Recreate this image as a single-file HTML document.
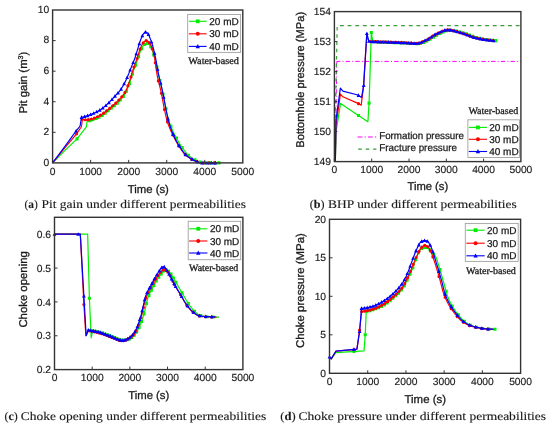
<!DOCTYPE html>
<html><head><meta charset="utf-8"><title>Figure</title>
<style>html,body{margin:0;padding:0;background:#fff;}svg{display:block;filter:blur(0.25px);}text{text-rendering:geometricPrecision;}</style>
</head><body>
<svg width="550" height="427" viewBox="0 0 550 427">
<style>
.tk{font-family:"Liberation Sans", Arial, sans-serif;font-size:10.3px;fill:#1a1a1a;stroke:#1a1a1a;stroke-width:0.15px}
.lg{font-family:"Liberation Sans", Arial, sans-serif;font-size:10px;fill:#1a1a1a;stroke:#1a1a1a;stroke-width:0.25px}
.al{font-family:"Liberation Sans", Arial, sans-serif;font-size:11.3px;fill:#1a1a1a;stroke:#1a1a1a;stroke-width:0.3px}
.wb{font-family:"Liberation Serif", "Times New Roman", serif;font-size:10px;fill:#1a1a1a;stroke:#1a1a1a;stroke-width:0.3px}
.cap{font-family:"Liberation Serif", "Times New Roman", serif;font-size:11.8px;fill:#1a1a1a;stroke:#1a1a1a;stroke-width:0.12px}
</style>
<rect width="550" height="427" fill="#fff"/>
<path d="M52.6 162.9 L64.01 151.43 L77.02 138.89 L86.42 126.97 L87.03 121.77 L87.22 121.7 L87.6 121.57 L87.98 121.44 L88.36 121.3 L88.74 121.17 L89.12 121.03 L89.5 120.89 L89.88 120.75 L90.26 120.61 L90.64 120.47 L91.02 120.32 L91.4 120.18 L91.63 120.09 L91.78 120.03 L92.16 119.88 L92.54 119.74 L92.92 119.59 L93.3 119.45 L93.68 119.31 L94.06 119.16 L94.44 119.02 L94.82 118.88 L95.2 118.73 L95.59 118.58 L95.97 118.43 L96.35 118.28 L96.73 118.13 L97.11 117.97 L97.49 117.81 L97.87 117.65 L98.25 117.48 L98.63 117.31 L99.01 117.13 L99.39 116.95 L99.77 116.76 L100.15 116.57 L100.53 116.37 L100.72 116.27 L100.91 116.16 L101.29 115.94 L101.67 115.72 L102.05 115.48 L102.43 115.23 L102.81 114.97 L103.19 114.7 L103.57 114.43 L103.95 114.15 L104.33 113.86 L104.71 113.57 L105.1 113.27 L105.48 112.96 L105.86 112.66 L106.24 112.35 L106.62 112.03 L107 111.72 L107.38 111.4 L107.76 111.08 L108.14 110.77 L108.52 110.45 L108.9 110.13 L109.28 109.82 L109.66 109.51 L109.81 109.39 L110.04 109.2 L110.42 108.89 L110.8 108.59 L111.18 108.28 L111.56 107.98 L111.94 107.67 L112.32 107.37 L112.7 107.06 L113.08 106.75 L113.46 106.44 L113.84 106.12 L114.22 105.8 L114.61 105.48 L114.99 105.16 L115.37 104.83 L115.75 104.5 L116.13 104.16 L116.51 103.81 L116.89 103.46 L117.27 103.1 L117.65 102.74 L118.03 102.36 L118.41 101.98 L118.79 101.59 L118.94 101.43 L119.17 101.2 L119.55 100.8 L119.93 100.39 L120.31 99.98 L120.69 99.57 L121.07 99.14 L121.45 98.71 L121.83 98.26 L122.21 97.8 L122.59 97.33 L122.97 96.84 L123.35 96.33 L123.73 95.8 L124.12 95.25 L124.5 94.68 L124.88 94.08 L125.26 93.46 L125.33 93.33 L125.64 92.8 L126.02 92.07 L126.4 91.29 L126.78 90.46 L127.16 89.59 L127.54 88.67 L127.92 87.72 L128.3 86.74 L128.68 85.73 L129.06 84.71 L129.44 83.67 L129.82 82.63 L130.2 81.54 L130.58 80.37 L130.96 79.15 L131.34 77.89 L131.72 76.6 L132.1 75.3 L132.48 74.02 L132.86 72.76 L133.24 71.55 L133.63 70.4 L134.01 69.3 L134.39 68.25 L134.77 67.22 L135.15 66.21 L135.53 65.22 L135.91 64.23 L136.29 63.24 L136.67 62.23 L137.05 61.21 L137.43 60.15 L137.81 59.04 L138.19 57.87 L138.57 56.66 L138.95 55.46 L139.33 54.28 L139.71 53.16 L140.09 52.12 L140.43 51.28 L140.47 51.2 L140.85 50.33 L141.23 49.48 L141.61 48.65 L141.99 47.88 L142.37 47.16 L142.75 46.51 L143.14 45.96 L143.52 45.51 L143.55 45.47 L143.9 45.13 L144.28 44.76 L144.66 44.4 L145.04 44.07 L145.42 43.78 L145.8 43.53 L146.18 43.34 L146.56 43.22 L146.94 43.18 L147.32 43.23 L147.7 43.36 L148.08 43.57 L148.46 43.84 L148.84 44.15 L149.22 44.5 L149.6 44.86 L149.98 45.33 L150.36 45.96 L150.74 46.73 L151.12 47.61 L151.5 48.55 L151.88 49.53 L152.26 50.52 L152.65 51.54 L153.03 52.63 L153.41 53.8 L153.79 55.03 L154.17 56.32 L154.55 57.66 L154.93 59.04 L155.31 60.46 L155.69 61.95 L156.07 63.54 L156.45 65.22 L156.83 66.96 L157.21 68.73 L157.59 70.52 L157.97 72.3 L158.35 74.05 L158.73 75.75 L159.11 77.39 L159.49 79 L159.87 80.6 L160.25 82.19 L160.63 83.79 L161.01 85.41 L161.39 87.05 L161.77 88.74 L162.16 90.49 L162.54 92.28 L162.92 94.11 L163.3 95.95 L163.68 97.81 L164.06 99.66 L164.44 101.48 L164.82 103.27 L165.2 105.06 L165.58 106.88 L165.96 108.7 L166.34 110.51 L166.72 112.27 L167.1 113.96 L167.48 115.55 L167.86 117.03 L168.24 118.41 L168.62 119.73 L169 120.99 L169.38 122.19 L169.76 123.33 L170.14 124.42 L170.52 125.44 L170.9 126.42 L171.28 127.36 L171.67 128.28 L172.05 129.16 L172.43 130.02 L172.81 130.86 L173.19 131.67 L173.57 132.47 L173.95 133.25 L174.33 134.01 L174.71 134.76 L175.09 135.5 L175.47 136.23 L175.85 136.95 L176.23 137.67 L176.61 138.39 L176.99 139.09 L177.37 139.79 L177.75 140.48 L178.13 141.16 L178.51 141.83 L178.89 142.49 L179.27 143.14 L179.65 143.78 L180.03 144.4 L180.41 145.01 L180.79 145.6 L181.18 146.19 L181.56 146.75 L181.94 147.3 L182.32 147.85 L182.7 148.38 L183.08 148.92 L183.46 149.44 L183.84 149.96 L184.22 150.47 L184.6 150.97 L184.98 151.46 L185.36 151.94 L185.74 152.41 L186.12 152.87 L186.5 153.31 L186.88 153.73 L187.26 154.14 L187.64 154.53 L188.02 154.9 L188.4 155.25 L188.78 155.59 L189.16 155.92 L189.54 156.25 L189.92 156.56 L190.3 156.86 L190.69 157.16 L191.07 157.45 L191.45 157.73 L191.83 158 L192.21 158.26 L192.59 158.51 L192.97 158.76 L193.35 158.99 L193.73 159.22 L194.11 159.44 L194.49 159.64 L194.87 159.84 L195.25 160.03 L195.63 160.22 L196.01 160.4 L196.39 160.57 L196.77 160.74 L197.15 160.9 L197.53 161.05 L197.91 161.2 L198.29 161.35 L198.67 161.49 L199.05 161.62 L199.43 161.75 L199.81 161.87 L200.2 161.98 L200.58 162.1 L200.96 162.22 L201.34 162.35 L201.72 162.47 L202.1 162.58 L202.48 162.69 L202.86 162.77 L203.24 162.84 L203.62 162.88 L204 162.9 L204.38 162.9 L204.76 162.9 L205.14 162.9 L205.52 162.9 L205.9 162.9 L206.28 162.9 L206.66 162.9 L207.04 162.9 L207.42 162.9 L207.8 162.9 L208.18 162.9 L208.56 162.9 L208.94 162.9 L209.32 162.9 L209.71 162.9 L210.09 162.9 L210.47 162.9 L210.85 162.9 L211.23 162.9 L211.61 162.9 L211.99 162.9 L212.37 162.9 L212.75 162.9 L213.13 162.9 L213.51 162.9 L213.89 162.9 L214.27 162.9 L214.65 162.9 L215.03 162.9 L215.41 162.9 L215.79 162.9 L216.17 162.9 L216.55 162.9 L216.93 162.9 L217.31 162.9 L217.69 162.9 L218.07 162.9 L218.45 162.9 L218.83 162.9 L218.99 162.9" stroke="#00ee00" stroke-width="1.2" fill="none" stroke-linejoin="round"/>
<path d="M75.47 137.34h3.1v3.1h-3.1zM88.33 119.2h3.1v3.1h-3.1zM91.37 118.04h3.1v3.1h-3.1zM94.42 116.88h3.1v3.1h-3.1zM97.46 115.58h3.1v3.1h-3.1zM100.5 113.93h3.1v3.1h-3.1zM103.55 111.72h3.1v3.1h-3.1zM106.59 109.22h3.1v3.1h-3.1zM109.63 106.73h3.1v3.1h-3.1zM112.67 104.25h3.1v3.1h-3.1zM115.72 101.55h3.1v3.1h-3.1zM118.76 98.43h3.1v3.1h-3.1zM121.8 94.78h3.1v3.1h-3.1zM124.85 89.74h3.1v3.1h-3.1zM127.89 82.12h3.1v3.1h-3.1zM130.93 72.47h3.1v3.1h-3.1zM133.98 63.67h3.1v3.1h-3.1zM137.02 55.11h3.1v3.1h-3.1zM140.06 47.1h3.1v3.1h-3.1zM143.11 42.85h3.1v3.1h-3.1zM146.15 41.81h3.1v3.1h-3.1zM149.19 45.18h3.1v3.1h-3.1zM152.24 53.48h3.1v3.1h-3.1zM155.28 65.41h3.1v3.1h-3.1zM158.32 79.05h3.1v3.1h-3.1zM161.37 92.56h3.1v3.1h-3.1zM164.41 107.15h3.1v3.1h-3.1zM169.35 124.87h3.1v3.1h-3.1zM174.87 136.48h3.1v3.1h-3.1zM180.58 146.03h3.1v3.1h-3.1zM186.85 153.7h3.1v3.1h-3.1zM193.32 158.29h3.1v3.1h-3.1zM198.65 160.43h3.1v3.1h-3.1zM203.21 161.35h3.1v3.1h-3.1zM208.16 161.35h3.1v3.1h-3.1zM213.1 161.35h3.1v3.1h-3.1zM217.44 161.35h3.1v3.1h-3.1z" fill="#00ee00" stroke="none"/>
<path d="M52.6 162.9 L64.01 148.83 L76.57 133.85 L80.75 127.73 L81.43 126.51 L82.08 121.77 L82.27 119.24 L82.65 119.34 L83.03 119.43 L83.41 119.51 L83.79 119.58 L84.17 119.63 L84.55 119.68 L84.93 119.72 L85.31 119.75 L85.69 119.77 L86.08 119.78 L86.46 119.79 L86.84 119.78 L87.22 119.76 L87.6 119.74 L87.98 119.71 L88.36 119.67 L88.74 119.62 L89.12 119.57 L89.5 119.5 L89.88 119.43 L90.26 119.35 L90.64 119.27 L91.02 119.18 L91.4 119.08 L91.63 119.02 L91.78 118.97 L92.16 118.86 L92.54 118.75 L92.92 118.62 L93.3 118.49 L93.68 118.36 L94.06 118.22 L94.44 118.07 L94.82 117.92 L95.2 117.76 L95.59 117.6 L95.97 117.44 L96.35 117.27 L96.73 117.09 L97.11 116.91 L97.49 116.73 L97.87 116.55 L98.25 116.36 L98.63 116.16 L99.01 115.96 L99.39 115.76 L99.77 115.56 L100.15 115.36 L100.53 115.15 L100.72 115.04 L100.91 114.94 L101.29 114.71 L101.67 114.48 L102.05 114.24 L102.43 113.99 L102.81 113.73 L103.19 113.47 L103.57 113.2 L103.95 112.92 L104.33 112.63 L104.71 112.34 L105.1 112.04 L105.48 111.74 L105.86 111.44 L106.24 111.13 L106.62 110.82 L107 110.5 L107.38 110.19 L107.76 109.87 L108.14 109.55 L108.52 109.24 L108.9 108.92 L109.28 108.6 L109.66 108.29 L109.81 108.16 L110.04 107.97 L110.42 107.66 L110.8 107.35 L111.18 107.03 L111.56 106.72 L111.94 106.4 L112.32 106.08 L112.7 105.76 L113.08 105.43 L113.46 105.11 L113.84 104.78 L114.22 104.44 L114.61 104.11 L114.99 103.77 L115.37 103.42 L115.75 103.07 L116.13 102.72 L116.51 102.36 L116.89 101.99 L117.27 101.62 L117.65 101.24 L118.03 100.86 L118.41 100.47 L118.79 100.07 L118.94 99.91 L119.17 99.66 L119.55 99.26 L119.93 98.85 L120.31 98.45 L120.69 98.03 L121.07 97.61 L121.45 97.18 L121.83 96.74 L122.21 96.29 L122.59 95.82 L122.97 95.34 L123.35 94.83 L123.73 94.3 L124.12 93.75 L124.5 93.17 L124.88 92.57 L125.26 91.93 L125.33 91.8 L125.64 91.25 L126.02 90.49 L126.4 89.65 L126.78 88.75 L127.16 87.8 L127.54 86.8 L127.92 85.77 L128.3 84.7 L128.68 83.62 L129.06 82.52 L129.44 81.43 L129.82 80.33 L130.2 79.21 L130.58 78.04 L130.96 76.81 L131.34 75.56 L131.72 74.29 L132.1 73.01 L132.48 71.74 L132.86 70.49 L133.24 69.27 L133.63 68.1 L134.01 66.98 L134.39 65.88 L134.77 64.81 L135.15 63.76 L135.53 62.72 L135.91 61.68 L136.29 60.63 L136.67 59.57 L137.05 58.5 L137.43 57.4 L137.81 56.24 L138.19 55.02 L138.57 53.77 L138.95 52.52 L139.33 51.3 L139.71 50.14 L140.09 49.08 L140.43 48.22 L140.47 48.14 L140.85 47.26 L141.23 46.39 L141.61 45.56 L141.99 44.77 L142.37 44.05 L142.75 43.42 L143.14 42.88 L143.52 42.45 L143.55 42.41 L143.9 42.1 L144.28 41.77 L144.66 41.45 L145.04 41.17 L145.42 40.93 L145.8 40.74 L146.18 40.62 L146.56 40.58 L146.94 40.64 L147.32 40.81 L147.7 41.07 L148.08 41.39 L148.46 41.74 L148.84 42.11 L149.22 42.53 L149.6 43.05 L149.98 43.66 L150.36 44.35 L150.74 45.11 L151.12 45.92 L151.47 46.7 L151.5 46.78 L151.88 47.74 L152.26 48.82 L152.65 50.03 L153.03 51.35 L153.41 52.78 L153.79 54.31 L153.94 54.95 L154.17 55.99 L154.55 58.01 L154.93 60.3 L155.31 62.79 L155.69 65.4 L156.07 68.05 L156.45 70.66 L156.83 73.15 L157.21 75.45 L157.55 77.28 L157.59 77.46 L157.97 79.26 L158.35 80.91 L158.73 82.47 L159.11 83.96 L159.49 85.41 L159.87 86.86 L160.25 88.34 L160.63 89.88 L161.01 91.52 L161.24 92.57 L161.39 93.29 L161.77 95.23 L162.16 97.29 L162.54 99.42 L162.92 101.58 L163.3 103.71 L163.68 105.77 L164.06 107.71 L164.25 108.62 L164.44 109.5 L164.82 111.26 L165.2 112.98 L165.58 114.66 L165.96 116.29 L166.34 117.84 L166.72 119.3 L167.1 120.67 L167.48 121.92 L167.86 123.09 L168.24 124.2 L168.62 125.27 L169 126.3 L169.38 127.28 L169.76 128.23 L170.14 129.15 L170.52 130.04 L170.9 130.9 L171.28 131.74 L171.67 132.57 L172.05 133.38 L172.43 134.19 L172.81 134.98 L173 135.38 L173.19 135.77 L173.57 136.55 L173.95 137.32 L174.33 138.07 L174.71 138.81 L175.09 139.54 L175.47 140.25 L175.85 140.95 L176.23 141.64 L176.61 142.31 L176.99 142.97 L177.37 143.62 L177.75 144.25 L178.13 144.88 L178.51 145.48 L178.89 146.08 L179.27 146.67 L179.65 147.26 L180.03 147.85 L180.41 148.43 L180.79 149 L181.18 149.57 L181.56 150.13 L181.94 150.67 L182.32 151.21 L182.7 151.72 L183.08 152.23 L183.46 152.71 L183.84 153.17 L184.22 153.62 L184.6 154.03 L184.98 154.43 L185.36 154.8 L185.74 155.14 L186.12 155.48 L186.5 155.8 L186.88 156.12 L187.26 156.42 L187.64 156.71 L188.02 156.99 L188.4 157.27 L188.78 157.53 L189.16 157.79 L189.54 158.03 L189.92 158.27 L190.3 158.51 L190.69 158.74 L191.07 158.96 L191.45 159.17 L191.83 159.38 L192.21 159.59 L192.59 159.79 L192.97 159.98 L193.35 160.17 L193.73 160.35 L194.11 160.53 L194.49 160.71 L194.87 160.87 L195.25 161.04 L195.63 161.19 L196.01 161.35 L196.39 161.5 L196.77 161.64 L197.08 161.75 L197.15 161.78 L197.53 161.93 L197.91 162.09 L198.29 162.24 L198.67 162.4 L199.05 162.54 L199.43 162.67 L199.81 162.78 L200.2 162.85 L200.58 162.89 L200.77 162.9 L200.96 162.9 L201.34 162.9 L201.72 162.9 L202.1 162.9 L202.48 162.9 L202.86 162.9 L203.24 162.9 L203.62 162.9 L204 162.9 L204.38 162.9 L204.76 162.9 L205.14 162.9 L205.52 162.9 L205.9 162.9 L206.28 162.9 L206.66 162.9 L207.04 162.9 L207.42 162.9 L207.8 162.9 L208.18 162.9 L208.56 162.9 L208.94 162.9 L209.32 162.9 L209.71 162.9 L210.09 162.9 L210.47 162.9 L210.85 162.9 L211.23 162.9 L211.61 162.9 L211.99 162.9 L212.37 162.9 L212.75 162.9 L213.13 162.9 L213.51 162.9 L213.89 162.9 L214.27 162.9 L214.65 162.9 L215.03 162.9 L215.41 162.9 L215.79 162.9 L216.17 162.9" stroke="#ff0000" stroke-width="1.2" fill="none" stroke-linejoin="round"/>
<path d="M74.97 133.85a1.6 1.6 0 1 0 3.2 0a1.6 1.6 0 1 0 -3.2 0zM80.67 119.24a1.6 1.6 0 1 0 3.2 0a1.6 1.6 0 1 0 -3.2 0zM83.71 119.75a1.6 1.6 0 1 0 3.2 0a1.6 1.6 0 1 0 -3.2 0zM86.76 119.67a1.6 1.6 0 1 0 3.2 0a1.6 1.6 0 1 0 -3.2 0zM89.8 119.08a1.6 1.6 0 1 0 3.2 0a1.6 1.6 0 1 0 -3.2 0zM92.84 118.07a1.6 1.6 0 1 0 3.2 0a1.6 1.6 0 1 0 -3.2 0zM95.89 116.73a1.6 1.6 0 1 0 3.2 0a1.6 1.6 0 1 0 -3.2 0zM98.93 115.15a1.6 1.6 0 1 0 3.2 0a1.6 1.6 0 1 0 -3.2 0zM101.97 113.2a1.6 1.6 0 1 0 3.2 0a1.6 1.6 0 1 0 -3.2 0zM105.02 110.82a1.6 1.6 0 1 0 3.2 0a1.6 1.6 0 1 0 -3.2 0zM108.06 108.29a1.6 1.6 0 1 0 3.2 0a1.6 1.6 0 1 0 -3.2 0zM111.1 105.76a1.6 1.6 0 1 0 3.2 0a1.6 1.6 0 1 0 -3.2 0zM114.15 103.07a1.6 1.6 0 1 0 3.2 0a1.6 1.6 0 1 0 -3.2 0zM117.19 100.07a1.6 1.6 0 1 0 3.2 0a1.6 1.6 0 1 0 -3.2 0zM120.23 96.74a1.6 1.6 0 1 0 3.2 0a1.6 1.6 0 1 0 -3.2 0zM123.28 92.57a1.6 1.6 0 1 0 3.2 0a1.6 1.6 0 1 0 -3.2 0zM126.32 85.77a1.6 1.6 0 1 0 3.2 0a1.6 1.6 0 1 0 -3.2 0zM129.36 76.81a1.6 1.6 0 1 0 3.2 0a1.6 1.6 0 1 0 -3.2 0zM132.41 66.98a1.6 1.6 0 1 0 3.2 0a1.6 1.6 0 1 0 -3.2 0zM135.45 58.5a1.6 1.6 0 1 0 3.2 0a1.6 1.6 0 1 0 -3.2 0zM138.49 49.08a1.6 1.6 0 1 0 3.2 0a1.6 1.6 0 1 0 -3.2 0zM141.54 42.88a1.6 1.6 0 1 0 3.2 0a1.6 1.6 0 1 0 -3.2 0zM144.58 40.62a1.6 1.6 0 1 0 3.2 0a1.6 1.6 0 1 0 -3.2 0zM147.62 42.53a1.6 1.6 0 1 0 3.2 0a1.6 1.6 0 1 0 -3.2 0zM150.66 48.82a1.6 1.6 0 1 0 3.2 0a1.6 1.6 0 1 0 -3.2 0zM153.71 62.79a1.6 1.6 0 1 0 3.2 0a1.6 1.6 0 1 0 -3.2 0zM156.75 80.91a1.6 1.6 0 1 0 3.2 0a1.6 1.6 0 1 0 -3.2 0zM159.79 93.29a1.6 1.6 0 1 0 3.2 0a1.6 1.6 0 1 0 -3.2 0zM162.84 109.5a1.6 1.6 0 1 0 3.2 0a1.6 1.6 0 1 0 -3.2 0zM165.88 121.92a1.6 1.6 0 1 0 3.2 0a1.6 1.6 0 1 0 -3.2 0zM171.21 134.98a1.6 1.6 0 1 0 3.2 0a1.6 1.6 0 1 0 -3.2 0zM177.1 145.78a1.6 1.6 0 1 0 3.2 0a1.6 1.6 0 1 0 -3.2 0zM183.57 154.62a1.6 1.6 0 1 0 3.2 0a1.6 1.6 0 1 0 -3.2 0zM190.04 159.28a1.6 1.6 0 1 0 3.2 0a1.6 1.6 0 1 0 -3.2 0zM195.36 161.71a1.6 1.6 0 1 0 3.2 0a1.6 1.6 0 1 0 -3.2 0zM201.64 162.9a1.6 1.6 0 1 0 3.2 0a1.6 1.6 0 1 0 -3.2 0zM207.34 162.9a1.6 1.6 0 1 0 3.2 0a1.6 1.6 0 1 0 -3.2 0zM213.05 162.9a1.6 1.6 0 1 0 3.2 0a1.6 1.6 0 1 0 -3.2 0z" fill="#ff0000" stroke="none"/>
<path d="M52.6 162.9 L64.01 147.61 L76.18 130.94 L79.49 126.82 L80.18 125.44 L81.51 117.36 L81.62 117.34 L81.89 117.28 L82.27 117.19 L82.65 117.09 L83.03 117 L83.41 116.9 L83.79 116.79 L84.17 116.69 L84.55 116.58 L84.93 116.47 L85.31 116.36 L85.69 116.24 L86.08 116.12 L86.46 116 L86.84 115.87 L87.22 115.75 L87.6 115.62 L87.98 115.49 L88.36 115.35 L88.74 115.22 L89.12 115.08 L89.5 114.94 L89.88 114.8 L90.26 114.65 L90.64 114.51 L91.02 114.36 L91.4 114.21 L91.63 114.12 L91.78 114.06 L92.16 113.91 L92.54 113.76 L92.92 113.6 L93.3 113.44 L93.68 113.27 L94.06 113.1 L94.44 112.93 L94.82 112.76 L95.2 112.58 L95.59 112.4 L95.97 112.21 L96.35 112.02 L96.73 111.83 L97.11 111.63 L97.49 111.43 L97.87 111.22 L98.25 111.01 L98.63 110.8 L99.01 110.58 L99.39 110.35 L99.77 110.13 L100.15 109.9 L100.53 109.66 L100.72 109.54 L100.91 109.42 L101.29 109.16 L101.67 108.9 L102.05 108.63 L102.43 108.35 L102.81 108.06 L103.19 107.76 L103.57 107.46 L103.95 107.14 L104.33 106.82 L104.71 106.5 L105.1 106.17 L105.48 105.83 L105.86 105.49 L106.24 105.14 L106.62 104.79 L107 104.43 L107.38 104.08 L107.76 103.72 L108.14 103.35 L108.52 102.99 L108.9 102.62 L109.28 102.25 L109.66 101.89 L109.81 101.74 L110.04 101.52 L110.42 101.14 L110.8 100.75 L111.18 100.35 L111.56 99.94 L111.94 99.53 L112.32 99.11 L112.7 98.69 L113.08 98.26 L113.46 97.83 L113.84 97.4 L114.22 96.97 L114.61 96.55 L114.99 96.12 L115.37 95.69 L115.75 95.27 L116.13 94.86 L116.51 94.46 L116.89 94.06 L117.27 93.68 L117.65 93.3 L118.03 92.91 L118.41 92.52 L118.79 92.11 L119.17 91.68 L119.55 91.22 L119.82 90.88 L119.93 90.73 L120.31 90.22 L120.69 89.68 L121.07 89.11 L121.45 88.52 L121.83 87.9 L122.21 87.27 L122.59 86.62 L122.97 85.95 L123.35 85.26 L123.73 84.56 L124.12 83.85 L124.5 83.12 L124.88 82.38 L125.22 81.71 L125.26 81.63 L125.64 80.87 L126.02 80.07 L126.4 79.24 L126.78 78.39 L127.16 77.51 L127.54 76.62 L127.92 75.71 L128.3 74.79 L128.68 73.85 L129.06 72.9 L129.44 71.95 L129.82 71 L130.2 70.04 L130.58 69.08 L130.96 68.13 L131.34 67.18 L131.72 66.25 L132.1 65.32 L132.48 64.38 L132.86 63.45 L133.24 62.5 L133.63 61.53 L134.01 60.55 L134.39 59.53 L134.77 58.48 L135.15 57.4 L135.53 56.25 L135.91 55.03 L136.29 53.75 L136.67 52.45 L137.05 51.13 L137.43 49.83 L137.81 48.56 L138.15 47.46 L138.19 47.34 L138.57 46.13 L138.95 44.9 L139.33 43.67 L139.71 42.46 L140.09 41.3 L140.47 40.21 L140.85 39.19 L141.23 38.29 L141.61 37.44 L141.99 36.6 L142.37 35.79 L142.75 35.03 L143.14 34.34 L143.52 33.74 L143.9 33.26 L144.24 32.94 L144.28 32.91 L144.66 32.62 L145.04 32.35 L145.42 32.15 L145.8 32.03 L145.99 32.02 L146.18 32.04 L146.56 32.2 L146.94 32.49 L147.32 32.85 L147.7 33.24 L148.08 33.74 L148.46 34.41 L148.84 35.22 L149.22 36.1 L149.6 37.03 L149.87 37.67 L149.98 37.95 L150.36 38.9 L150.74 39.91 L151.12 40.97 L151.5 42.08 L151.88 43.24 L152.26 44.46 L152.65 45.73 L153.03 47.05 L153.14 47.46 L153.41 48.45 L153.79 49.97 L154.17 51.59 L154.55 53.29 L154.93 55.06 L155.31 56.88 L155.57 58.16 L155.69 58.73 L156.07 60.7 L156.45 62.8 L156.83 64.97 L157.21 67.16 L157.59 69.32 L157.97 71.4 L158.35 73.36 L158.47 73.91 L158.73 75.16 L159.11 76.85 L159.49 78.46 L159.87 80.02 L160.25 81.55 L160.63 83.06 L161.01 84.59 L161.39 86.16 L161.77 87.79 L162.16 89.51 L162.54 91.32 L162.92 93.22 L163.3 95.18 L163.68 97.18 L164.06 99.19 L164.44 101.19 L164.82 103.17 L165.2 105.1 L165.58 107.04 L165.96 109.02 L166.34 111.02 L166.72 113 L167.1 114.92 L167.48 116.74 L167.86 118.43 L168.24 119.95 L168.28 120.09 L168.62 121.33 L169 122.65 L169.38 123.92 L169.76 125.13 L170.14 126.3 L170.52 127.43 L170.9 128.51 L171.28 129.56 L171.67 130.56 L172.05 131.54 L172.43 132.49 L172.81 133.41 L173.19 134.3 L173.45 134.92 L173.57 135.18 L173.95 136.03 L174.33 136.86 L174.71 137.67 L175.09 138.46 L175.47 139.22 L175.85 139.97 L176.23 140.7 L176.61 141.41 L176.99 142.1 L177.37 142.78 L177.75 143.44 L178.13 144.09 L178.51 144.72 L178.89 145.35 L179.16 145.78 L179.27 145.96 L179.65 146.57 L180.03 147.17 L180.41 147.78 L180.79 148.37 L181.18 148.96 L181.56 149.54 L181.94 150.11 L182.32 150.67 L182.7 151.21 L183.08 151.73 L183.46 152.24 L183.84 152.72 L184.22 153.18 L184.6 153.62 L184.98 154.04 L185.36 154.42 L185.59 154.64 L185.74 154.78 L186.12 155.13 L186.5 155.46 L186.88 155.77 L187.26 156.08 L187.64 156.38 L188.02 156.66 L188.4 156.93 L188.78 157.2 L189.16 157.46 L189.54 157.71 L189.92 157.95 L190.3 158.19 L190.69 158.42 L191.07 158.64 L191.45 158.86 L191.83 159.08 L192.09 159.23 L192.21 159.29 L192.59 159.5 L192.97 159.71 L193.35 159.91 L193.73 160.1 L194.11 160.29 L194.49 160.48 L194.87 160.66 L195.25 160.83 L195.63 161 L196.01 161.17 L196.39 161.33 L196.77 161.48 L197.15 161.63 L197.27 161.68 L197.53 161.78 L197.91 161.95 L198.29 162.11 L198.67 162.28 L199.05 162.44 L199.43 162.59 L199.81 162.72 L200.2 162.81 L200.58 162.88 L200.96 162.9 L201.34 162.9 L201.72 162.9 L202.1 162.9 L202.48 162.9 L202.86 162.9 L203.24 162.9 L203.62 162.9 L204 162.9 L204.38 162.9 L204.76 162.9 L205.14 162.9 L205.52 162.9 L205.9 162.9 L206.28 162.9 L206.66 162.9 L207.04 162.9 L207.42 162.9 L207.8 162.9 L208.18 162.9 L208.56 162.9 L208.94 162.9 L209.32 162.9 L209.71 162.9 L210.09 162.9 L210.47 162.9 L210.85 162.9 L211.23 162.9 L211.61 162.9 L211.99 162.9 L212.37 162.9 L212.75 162.9 L213.13 162.9 L213.51 162.9 L213.89 162.9 L214.27 162.9 L214.65 162.9 L215.03 162.9 L215.41 162.9 L215.49 162.9" stroke="#0000ff" stroke-width="1.2" fill="none" stroke-linejoin="round"/>
<path d="M76.18 128.85L78.08 132.46L74.28 132.46zM81.51 115.27L83.41 118.88L79.61 118.88zM84.55 114.49L86.45 118.1L82.65 118.1zM87.6 113.53L89.5 117.14L85.7 117.14zM90.64 112.42L92.54 116.03L88.74 116.03zM93.68 111.18L95.58 114.79L91.78 114.79zM96.73 109.74L98.63 113.35L94.83 113.35zM99.77 108.04L101.67 111.65L97.87 111.65zM102.81 105.97L104.71 109.58L100.91 109.58zM105.86 103.4L107.76 107.01L103.96 107.01zM108.9 100.53L110.8 104.14L107 104.14zM111.94 97.44L113.84 101.05L110.04 101.05zM114.99 94.03L116.89 97.64L113.09 97.64zM118.03 90.82L119.93 94.43L116.13 94.43zM121.07 87.02L122.97 90.63L119.17 90.63zM124.12 81.76L126.02 85.37L122.22 85.37zM127.16 75.42L129.06 79.03L125.26 79.03zM130.2 67.95L132.1 71.56L128.3 71.56zM133.24 60.41L135.14 64.02L131.34 64.02zM136.29 51.66L138.19 55.27L134.39 55.27zM139.33 41.58L141.23 45.19L137.43 45.19zM142.37 33.7L144.27 37.31L140.47 37.31zM145.42 30.06L147.32 33.67L143.52 33.67zM148.46 32.32L150.36 35.93L146.56 35.93zM151.5 39.99L153.4 43.6L149.6 43.6zM154.55 51.2L156.45 54.81L152.65 54.81zM157.59 67.23L159.49 70.84L155.69 70.84zM160.63 80.97L162.53 84.58L158.73 84.58zM163.68 95.09L165.58 98.7L161.78 98.7zM167.98 116.81L169.88 120.42L166.08 120.42zM173.26 132.39L175.16 136L171.36 136zM179.16 143.69L181.06 147.3L177.26 147.3zM185.59 152.55L187.49 156.16L183.69 156.16zM192.09 157.14L193.99 160.75L190.19 160.75zM197.27 159.59L199.17 163.2L195.37 163.2zM202.1 160.81L204 164.42L200.2 164.42zM207.04 160.81L208.94 164.42L205.14 164.42zM211.61 160.81L213.51 164.42L209.71 164.42zM215.49 160.81L217.39 164.42L213.59 164.42z" fill="#0000ff" stroke="none"/>
<rect x="52.6" y="10" width="190.2" height="152.9" fill="none" stroke="#333333" stroke-width="1.4"/>
<path d="M90.64 162.9V159.9M128.68 162.9V159.9M166.72 162.9V159.9M204.76 162.9V159.9M52.6 132.32H55.6M52.6 101.74H55.6M52.6 71.16H55.6M52.6 40.58H55.6" stroke="#333333" stroke-width="1" fill="none"/>
<text x="52.6" y="174.7" text-anchor="middle" class="tk">0</text>
<text x="90.64" y="174.7" text-anchor="middle" class="tk">1000</text>
<text x="128.68" y="174.7" text-anchor="middle" class="tk">2000</text>
<text x="166.72" y="174.7" text-anchor="middle" class="tk">3000</text>
<text x="204.76" y="174.7" text-anchor="middle" class="tk">4000</text>
<text x="242.8" y="174.7" text-anchor="middle" class="tk">5000</text>
<text x="49.2" y="165.8" text-anchor="end" class="tk">0</text>
<text x="49.2" y="135.22" text-anchor="end" class="tk">2</text>
<text x="49.2" y="104.64" text-anchor="end" class="tk">4</text>
<text x="49.2" y="74.06" text-anchor="end" class="tk">6</text>
<text x="49.2" y="43.48" text-anchor="end" class="tk">8</text>
<text x="49.2" y="12.9" text-anchor="end" class="tk">10</text>
<rect x="187.7" y="14.5" width="52.9" height="37.9" fill="#fff" stroke="#a0a0a0" stroke-width="0.9"/>
<path d="M188.9 21.3H206.6" stroke="#00ee00" stroke-width="1.1"/>
<path d="M195.85 19.4h3.8v3.8h-3.8z" fill="#00ee00"/>
<text x="209.3" y="24.9" class="lg" textLength="29.4" lengthAdjust="spacingAndGlyphs">20 mD</text>
<path d="M188.9 33.8H206.6" stroke="#ff0000" stroke-width="1.1"/>
<path d="M195.75 33.8a2 2 0 1 0 4 0a2 2 0 1 0 -4 0z" fill="#ff0000"/>
<text x="209.3" y="37.4" class="lg" textLength="29.4" lengthAdjust="spacingAndGlyphs">30 mD</text>
<path d="M188.9 46.4H206.6" stroke="#0000ff" stroke-width="1.1"/>
<path d="M197.75 43.98L199.95 48.16L195.55 48.16z" fill="#0000ff"/>
<text x="209.3" y="50" class="lg" textLength="29.4" lengthAdjust="spacingAndGlyphs">40 mD</text>
<text x="188.3" y="64.4" class="wb" textLength="50.5" lengthAdjust="spacingAndGlyphs">Water-based</text>
<text x="127.7" y="192.5" class="al" textLength="41.2" lengthAdjust="spacingAndGlyphs">Time (s)</text>
<text transform="translate(27.3 113.6) rotate(-90)" x="0" y="0" class="al" textLength="61.9" lengthAdjust="spacingAndGlyphs">Pit gain (m<tspan font-size="7" dy="-4.6">3</tspan><tspan dy="4.6">)</tspan></text>
<text x="24.5" y="208.3" class="cap" textLength="13.3" lengthAdjust="spacingAndGlyphs">(<tspan font-weight="bold">a</tspan>)</text>
<text x="41.5" y="208.3" class="cap" textLength="204.5" lengthAdjust="spacingAndGlyphs">Pit gain under different permeabilities</text>
<path d="M335.15 161.6L336.82 61.4" stroke="#ff00ff" stroke-width="1" fill="none" stroke-dasharray="4.4 2.2 1 2.1"/>
<path d="M336.82 61.4H520.9" stroke="#ff00ff" stroke-width="1" fill="none" stroke-dasharray="4.4 2.2 1 2.1" stroke-dashoffset="0.92"/>
<path d="M337.2 25.7L334.4 161.6" stroke="#3d9d3d" stroke-width="1.2" fill="none" stroke-dasharray="3.5 3.8" stroke-dashoffset="-1.2"/>
<path d="M337.2 25.7H520.9" stroke="#3d9d3d" stroke-width="1.2" fill="none" stroke-dasharray="3.85 3.79" stroke-dashoffset="4.84"/>
<path d="M335.33 161.6 L336.08 131.6 L340.59 103.4 L358.38 115.4 L367.9 121.7 L369.09 103.1 L371.33 32.6 L372.82 41.6 L372.93 41.61 L373.23 41.65 L373.53 41.69 L373.83 41.73 L374.12 41.77 L374.42 41.81 L374.72 41.84 L375.02 41.87 L375.32 41.89 L375.43 41.9 L375.62 41.91 L375.91 41.93 L376.21 41.95 L376.51 41.97 L376.81 41.99 L377.11 42 L377.41 42.02 L377.71 42.04 L378 42.05 L378.3 42.07 L378.6 42.08 L378.9 42.09 L379.2 42.11 L379.5 42.12 L379.79 42.13 L380.09 42.15 L380.39 42.16 L380.69 42.17 L380.99 42.18 L381.29 42.19 L381.58 42.2 L381.88 42.22 L382.18 42.23 L382.48 42.24 L382.78 42.25 L383.08 42.26 L383.37 42.27 L383.67 42.28 L383.97 42.29 L384.27 42.3 L384.57 42.3 L384.87 42.31 L385.17 42.32 L385.46 42.33 L385.76 42.34 L386.06 42.35 L386.36 42.36 L386.66 42.37 L386.96 42.38 L387.25 42.39 L387.55 42.4 L387.85 42.41 L388.15 42.42 L388.45 42.43 L388.75 42.44 L389.04 42.45 L389.34 42.46 L389.64 42.47 L389.94 42.48 L390.24 42.5 L390.35 42.5 L390.54 42.51 L390.83 42.52 L391.13 42.53 L391.43 42.54 L391.73 42.56 L392.03 42.57 L392.33 42.58 L392.63 42.59 L392.92 42.6 L393.22 42.61 L393.52 42.63 L393.82 42.64 L394.12 42.65 L394.42 42.66 L394.71 42.67 L395.01 42.68 L395.31 42.7 L395.61 42.71 L395.91 42.72 L396.21 42.73 L396.5 42.74 L396.8 42.76 L397.1 42.77 L397.4 42.78 L397.7 42.79 L398 42.8 L398.29 42.81 L398.59 42.83 L398.89 42.84 L399.19 42.85 L399.49 42.86 L399.79 42.87 L400.09 42.89 L400.38 42.9 L400.68 42.91 L400.98 42.92 L401.28 42.93 L401.58 42.95 L401.88 42.96 L402.17 42.97 L402.47 42.98 L402.77 42.99 L403.07 43.01 L403.37 43.02 L403.67 43.03 L403.96 43.04 L404.26 43.06 L404.56 43.07 L404.86 43.08 L405.16 43.1 L405.27 43.1 L405.46 43.11 L405.75 43.12 L406.05 43.14 L406.35 43.15 L406.65 43.17 L406.95 43.18 L407.25 43.2 L407.55 43.21 L407.84 43.23 L408.14 43.25 L408.44 43.27 L408.74 43.28 L409.04 43.3 L409.34 43.32 L409.63 43.34 L409.93 43.36 L410.23 43.38 L410.53 43.39 L410.83 43.41 L411.13 43.43 L411.42 43.45 L411.72 43.47 L412.02 43.48 L412.32 43.5 L412.62 43.52 L412.92 43.53 L413.21 43.55 L413.51 43.56 L413.81 43.58 L414.11 43.59 L414.41 43.61 L414.71 43.62 L415.01 43.63 L415.3 43.64 L415.6 43.65 L415.9 43.66 L416.2 43.67 L416.5 43.68 L416.8 43.68 L417.09 43.69 L417.39 43.69 L417.69 43.7 L417.99 43.7 L418.29 43.7 L418.32 43.7 L418.59 43.7 L418.88 43.68 L419.18 43.66 L419.48 43.62 L419.78 43.58 L420.08 43.53 L420.38 43.47 L420.67 43.4 L420.97 43.32 L421.27 43.24 L421.57 43.15 L421.87 43.06 L422.17 42.95 L422.47 42.85 L422.76 42.74 L423.06 42.62 L423.36 42.5 L423.66 42.37 L423.96 42.25 L424.26 42.12 L424.55 41.98 L424.85 41.85 L425.15 41.71 L425.45 41.57 L425.75 41.44 L426.05 41.3 L426.34 41.16 L426.64 41.02 L426.94 40.88 L427.24 40.75 L427.54 40.61 L427.84 40.48 L428.02 40.4 L428.13 40.35 L428.43 40.21 L428.73 40.07 L429.03 39.92 L429.33 39.76 L429.63 39.6 L429.93 39.43 L430.22 39.26 L430.52 39.08 L430.82 38.89 L431.12 38.7 L431.42 38.51 L431.72 38.32 L432.01 38.12 L432.31 37.93 L432.61 37.73 L432.91 37.53 L433.21 37.33 L433.51 37.13 L433.8 36.93 L434.1 36.73 L434.4 36.53 L434.7 36.33 L435 36.14 L435.3 35.95 L435.59 35.76 L435.89 35.58 L436.19 35.4 L436.49 35.23 L436.79 35.06 L437.09 34.9 L437.39 34.74 L437.68 34.59 L437.98 34.45 L438.09 34.4 L438.28 34.31 L438.58 34.18 L438.88 34.04 L439.18 33.89 L439.47 33.75 L439.77 33.6 L440.07 33.46 L440.37 33.31 L440.67 33.16 L440.97 33.02 L441.26 32.87 L441.56 32.72 L441.86 32.58 L442.16 32.43 L442.46 32.29 L442.76 32.15 L443.05 32.01 L443.35 31.87 L443.65 31.74 L443.95 31.61 L444.25 31.49 L444.55 31.36 L444.85 31.25 L445.14 31.13 L445.44 31.02 L445.74 30.92 L446.04 30.82 L446.34 30.73 L446.64 30.65 L446.93 30.57 L447.23 30.49 L447.53 30.43 L447.83 30.37 L448.13 30.32 L448.43 30.28 L448.72 30.25 L449.02 30.22 L449.32 30.21 L449.62 30.2 L449.66 30.2 L449.92 30.2 L450.22 30.21 L450.51 30.22 L450.81 30.24 L451.11 30.26 L451.41 30.28 L451.71 30.31 L452.01 30.34 L452.31 30.38 L452.6 30.42 L452.9 30.46 L453.2 30.5 L453.5 30.55 L453.8 30.61 L454.1 30.66 L454.39 30.72 L454.69 30.78 L454.99 30.84 L455.29 30.91 L455.59 30.97 L455.89 31.04 L456.18 31.11 L456.48 31.18 L456.78 31.26 L457.08 31.33 L457.38 31.41 L457.68 31.48 L457.97 31.56 L458.27 31.64 L458.57 31.72 L458.87 31.8 L459.17 31.88 L459.47 31.96 L459.77 32.04 L460.06 32.11 L460.36 32.19 L460.66 32.27 L460.96 32.35 L461.26 32.42 L461.56 32.5 L461.85 32.57 L461.97 32.6 L462.15 32.65 L462.45 32.72 L462.75 32.8 L463.05 32.88 L463.35 32.97 L463.64 33.06 L463.94 33.15 L464.24 33.24 L464.54 33.34 L464.84 33.43 L465.14 33.53 L465.43 33.63 L465.73 33.74 L466.03 33.84 L466.33 33.95 L466.63 34.06 L466.93 34.17 L467.23 34.28 L467.52 34.39 L467.82 34.5 L468.12 34.61 L468.42 34.73 L468.72 34.84 L469.02 34.96 L469.31 35.07 L469.61 35.19 L469.91 35.3 L470.21 35.42 L470.51 35.53 L470.81 35.65 L471.1 35.76 L471.4 35.88 L471.7 35.99 L472 36.1 L472.3 36.22 L472.6 36.33 L472.89 36.44 L473.19 36.54 L473.49 36.65 L473.79 36.76 L474.09 36.86 L474.39 36.96 L474.69 37.06 L474.98 37.16 L475.28 37.25 L475.58 37.35 L475.88 37.44 L476.18 37.52 L476.48 37.61 L476.77 37.69 L477.07 37.77 L477.37 37.85 L477.67 37.92 L477.97 37.99 L478 38 L478.27 38.06 L478.56 38.13 L478.86 38.19 L479.16 38.26 L479.46 38.32 L479.76 38.39 L480.06 38.45 L480.35 38.52 L480.65 38.58 L480.95 38.64 L481.25 38.7 L481.55 38.76 L481.85 38.82 L482.15 38.88 L482.44 38.94 L482.74 39 L483.04 39.05 L483.34 39.11 L483.64 39.16 L483.94 39.22 L484.23 39.27 L484.53 39.32 L484.83 39.37 L485.13 39.42 L485.43 39.47 L485.73 39.52 L486.02 39.57 L486.32 39.62 L486.62 39.66 L486.92 39.71 L487.22 39.75 L487.52 39.79 L487.81 39.83 L488.11 39.88 L488.41 39.91 L488.71 39.95 L489.01 39.99 L489.31 40.03 L489.61 40.06 L489.9 40.1 L489.94 40.1 L490.2 40.13 L490.5 40.16 L490.8 40.19 L491.1 40.23 L491.4 40.26 L491.69 40.29 L491.99 40.32 L492.29 40.35 L492.59 40.37 L492.89 40.4 L493.19 40.43 L493.48 40.45 L493.78 40.48 L494.08 40.5 L494.38 40.53 L494.68 40.55 L494.98 40.57 L495.27 40.6 L495.57 40.62 L495.87 40.64 L496.17 40.65 L496.47 40.67 L496.77 40.69 L496.99 40.7" stroke="#00ee00" stroke-width="1.2" fill="none" stroke-linejoin="round"/>
<path d="M356.95 113.92h3.1v3.1h-3.1zM367.54 101.55h3.1v3.1h-3.1zM369.78 31.05h3.1v3.1h-3.1zM372.76 40.24h3.1v3.1h-3.1zM376.04 40.48h3.1v3.1h-3.1zM379.33 40.63h3.1v3.1h-3.1zM382.61 40.74h3.1v3.1h-3.1zM385.89 40.85h3.1v3.1h-3.1zM389.17 40.96h3.1v3.1h-3.1zM392.46 41.1h3.1v3.1h-3.1zM395.74 41.22h3.1v3.1h-3.1zM399.02 41.35h3.1v3.1h-3.1zM402.3 41.49h3.1v3.1h-3.1zM405.58 41.64h3.1v3.1h-3.1zM408.87 41.84h3.1v3.1h-3.1zM412.15 42.02h3.1v3.1h-3.1zM415.43 42.14h3.1v3.1h-3.1zM418.71 41.94h3.1v3.1h-3.1zM422 40.87h3.1v3.1h-3.1zM425.28 39.38h3.1v3.1h-3.1zM428.56 37.77h3.1v3.1h-3.1zM431.84 35.65h3.1v3.1h-3.1zM435.13 33.57h3.1v3.1h-3.1zM438.41 31.96h3.1v3.1h-3.1zM441.69 30.37h3.1v3.1h-3.1zM444.97 29.13h3.1v3.1h-3.1zM448.26 28.65h3.1v3.1h-3.1zM451.54 28.94h3.1v3.1h-3.1zM454.82 29.61h3.1v3.1h-3.1zM458.1 30.46h3.1v3.1h-3.1zM461.39 31.3h3.1v3.1h-3.1zM464.67 32.36h3.1v3.1h-3.1zM467.95 33.6h3.1v3.1h-3.1zM471.23 34.84h3.1v3.1h-3.1zM474.52 35.94h3.1v3.1h-3.1zM477.8 36.75h3.1v3.1h-3.1zM481.08 37.42h3.1v3.1h-3.1zM484.36 38h3.1v3.1h-3.1zM487.64 38.46h3.1v3.1h-3.1zM490.93 38.81h3.1v3.1h-3.1zM494.21 39.08h3.1v3.1h-3.1z" fill="#00ee00" stroke="none"/>
<path d="M335.33 161.6 L336 125.6 L340.41 94.1 L342.9 96.8 L357.41 103.1 L361.18 105.2 L363.49 86.6 L366.66 35.6 L368.9 41.6 L369.05 41.6 L369.35 41.6 L369.65 41.6 L369.95 41.6 L370.25 41.6 L370.54 41.6 L370.84 41.6 L371.14 41.6 L371.44 41.6 L371.7 41.6 L371.74 41.6 L372.04 41.6 L372.33 41.6 L372.63 41.6 L372.93 41.6 L373.23 41.61 L373.53 41.61 L373.83 41.61 L374.12 41.62 L374.42 41.62 L374.72 41.63 L375.02 41.63 L375.32 41.64 L375.62 41.64 L375.91 41.65 L376.21 41.66 L376.51 41.67 L376.81 41.67 L377.11 41.68 L377.41 41.69 L377.71 41.7 L378 41.71 L378.3 41.72 L378.6 41.73 L378.9 41.74 L379.2 41.75 L379.5 41.76 L379.79 41.77 L380.09 41.78 L380.39 41.79 L380.69 41.8 L380.99 41.81 L381.29 41.83 L381.58 41.84 L381.88 41.85 L382.18 41.86 L382.48 41.88 L382.78 41.89 L383.08 41.9 L383.37 41.91 L383.67 41.93 L383.97 41.94 L384.27 41.95 L384.57 41.96 L384.87 41.98 L385.17 41.99 L385.46 42 L385.76 42.02 L386.06 42.03 L386.36 42.04 L386.66 42.05 L386.96 42.07 L387.25 42.08 L387.55 42.09 L387.85 42.1 L388.15 42.12 L388.45 42.13 L388.75 42.14 L389.04 42.15 L389.34 42.16 L389.64 42.17 L389.94 42.19 L390.24 42.2 L390.35 42.2 L390.54 42.21 L390.83 42.22 L391.13 42.23 L391.43 42.24 L391.73 42.25 L392.03 42.26 L392.33 42.27 L392.63 42.28 L392.92 42.29 L393.22 42.31 L393.52 42.32 L393.82 42.33 L394.12 42.34 L394.42 42.35 L394.71 42.36 L395.01 42.37 L395.31 42.38 L395.61 42.4 L395.91 42.41 L396.21 42.42 L396.5 42.43 L396.8 42.44 L397.1 42.45 L397.4 42.47 L397.7 42.48 L398 42.49 L398.29 42.5 L398.59 42.51 L398.89 42.53 L399.19 42.54 L399.49 42.55 L399.79 42.56 L400.09 42.58 L400.38 42.59 L400.68 42.6 L400.98 42.61 L401.28 42.63 L401.58 42.64 L401.88 42.65 L402.17 42.66 L402.47 42.68 L402.77 42.69 L403.07 42.7 L403.37 42.72 L403.67 42.73 L403.96 42.74 L404.26 42.75 L404.56 42.77 L404.86 42.78 L405.16 42.79 L405.27 42.8 L405.46 42.81 L405.75 42.82 L406.05 42.84 L406.35 42.85 L406.65 42.87 L406.95 42.89 L407.25 42.91 L407.55 42.93 L407.84 42.95 L408.14 42.96 L408.44 42.98 L408.74 43 L409.04 43.02 L409.34 43.05 L409.63 43.07 L409.93 43.09 L410.23 43.11 L410.53 43.13 L410.83 43.15 L411.13 43.17 L411.42 43.19 L411.72 43.2 L412.02 43.22 L412.32 43.24 L412.62 43.26 L412.92 43.28 L413.21 43.29 L413.51 43.31 L413.81 43.32 L414.11 43.33 L414.41 43.35 L414.71 43.36 L415.01 43.37 L415.3 43.38 L415.6 43.38 L415.9 43.39 L416.2 43.39 L416.5 43.4 L416.8 43.4 L416.98 43.4 L417.09 43.4 L417.39 43.39 L417.69 43.37 L417.99 43.33 L418.29 43.29 L418.59 43.24 L418.88 43.18 L419.18 43.1 L419.48 43.02 L419.78 42.94 L420.08 42.84 L420.38 42.74 L420.67 42.63 L420.97 42.52 L421.27 42.4 L421.57 42.27 L421.87 42.14 L422.17 42.01 L422.47 41.88 L422.76 41.74 L423.06 41.6 L423.36 41.45 L423.66 41.31 L423.96 41.16 L424.26 41.02 L424.55 40.87 L424.85 40.73 L425.15 40.58 L425.45 40.44 L425.75 40.3 L426.05 40.17 L426.2 40.1 L426.34 40.03 L426.64 39.89 L426.94 39.74 L427.24 39.59 L427.54 39.43 L427.84 39.26 L428.13 39.08 L428.43 38.91 L428.73 38.72 L429.03 38.54 L429.33 38.35 L429.63 38.15 L429.93 37.96 L430.22 37.76 L430.52 37.56 L430.82 37.36 L431.12 37.16 L431.42 36.96 L431.72 36.76 L432.01 36.56 L432.31 36.36 L432.61 36.16 L432.91 35.97 L433.21 35.77 L433.51 35.58 L433.8 35.4 L434.1 35.22 L434.4 35.04 L434.7 34.87 L435 34.7 L435.3 34.54 L435.59 34.39 L435.89 34.24 L436.19 34.1 L436.49 33.96 L436.79 33.82 L437.09 33.68 L437.39 33.54 L437.68 33.39 L437.98 33.25 L438.28 33.1 L438.58 32.96 L438.88 32.81 L439.18 32.66 L439.47 32.51 L439.77 32.37 L440.07 32.22 L440.37 32.08 L440.67 31.94 L440.97 31.8 L441.26 31.66 L441.56 31.53 L441.86 31.4 L442.16 31.27 L442.46 31.15 L442.76 31.02 L443.05 30.91 L443.35 30.8 L443.65 30.69 L443.95 30.59 L444.25 30.49 L444.55 30.4 L444.85 30.32 L445.14 30.24 L445.44 30.17 L445.74 30.11 L446.04 30.06 L446.34 30.01 L446.64 29.97 L446.93 29.94 L447.23 29.92 L447.53 29.9 L447.79 29.9 L447.83 29.9 L448.13 29.9 L448.43 29.91 L448.72 29.93 L449.02 29.95 L449.32 29.97 L449.62 30 L449.92 30.03 L450.22 30.07 L450.51 30.11 L450.81 30.16 L451.11 30.21 L451.41 30.26 L451.71 30.31 L452.01 30.37 L452.31 30.44 L452.6 30.5 L452.9 30.57 L453.2 30.64 L453.5 30.71 L453.8 30.79 L454.1 30.87 L454.39 30.95 L454.69 31.03 L454.99 31.11 L455.29 31.19 L455.59 31.28 L455.89 31.36 L456.18 31.45 L456.48 31.54 L456.78 31.62 L457.08 31.71 L457.38 31.8 L457.68 31.89 L457.97 31.97 L458.27 32.06 L458.57 32.15 L458.87 32.23 L459.17 32.32 L459.47 32.4 L459.77 32.48 L460.06 32.56 L460.21 32.6 L460.36 32.64 L460.66 32.72 L460.96 32.8 L461.26 32.89 L461.56 32.98 L461.85 33.07 L462.15 33.16 L462.45 33.26 L462.75 33.36 L463.05 33.46 L463.35 33.56 L463.64 33.66 L463.94 33.77 L464.24 33.87 L464.54 33.98 L464.84 34.09 L465.14 34.2 L465.43 34.31 L465.73 34.42 L466.03 34.53 L466.33 34.65 L466.63 34.76 L466.93 34.88 L467.23 34.99 L467.52 35.1 L467.82 35.22 L468.12 35.33 L468.42 35.45 L468.72 35.56 L469.02 35.68 L469.31 35.79 L469.61 35.9 L469.91 36.01 L470.21 36.13 L470.51 36.24 L470.81 36.34 L471.1 36.45 L471.4 36.56 L471.7 36.66 L472 36.77 L472.3 36.87 L472.6 36.97 L472.89 37.07 L473.19 37.16 L473.49 37.26 L473.79 37.35 L474.09 37.44 L474.39 37.53 L474.69 37.61 L474.98 37.69 L475.28 37.77 L475.58 37.85 L475.88 37.92 L476.18 37.99 L476.21 38 L476.48 38.06 L476.77 38.13 L477.07 38.19 L477.37 38.26 L477.67 38.32 L477.97 38.39 L478.27 38.45 L478.56 38.51 L478.86 38.57 L479.16 38.64 L479.46 38.7 L479.76 38.76 L480.06 38.82 L480.35 38.87 L480.65 38.93 L480.95 38.99 L481.25 39.04 L481.55 39.1 L481.85 39.15 L482.15 39.21 L482.44 39.26 L482.74 39.31 L483.04 39.36 L483.34 39.41 L483.64 39.46 L483.94 39.51 L484.23 39.56 L484.53 39.6 L484.83 39.65 L485.13 39.69 L485.43 39.74 L485.73 39.78 L486.02 39.82 L486.32 39.86 L486.62 39.9 L486.92 39.94 L487.22 39.98 L487.52 40.02 L487.81 40.06 L488.11 40.09 L488.19 40.1 L488.41 40.13 L488.71 40.16 L489.01 40.19 L489.31 40.23 L489.61 40.26 L489.9 40.29 L490.2 40.32 L490.5 40.35 L490.8 40.38 L491.1 40.41 L491.4 40.44 L491.69 40.46 L491.99 40.49 L492.29 40.52 L492.59 40.54 L492.89 40.57 L493.19 40.59 L493.48 40.61 L493.78 40.63 L494.08 40.65 L494.38 40.67 L494.68 40.69 L494.79 40.7" stroke="#ff0000" stroke-width="1.2" fill="none" stroke-linejoin="round"/>
<path d="M356.9 103.7a1.6 1.6 0 1 0 3.2 0a1.6 1.6 0 1 0 -3.2 0zM368.98 41.6a1.6 1.6 0 1 0 3.2 0a1.6 1.6 0 1 0 -3.2 0zM372.26 41.61a1.6 1.6 0 1 0 3.2 0a1.6 1.6 0 1 0 -3.2 0zM375.55 41.68a1.6 1.6 0 1 0 3.2 0a1.6 1.6 0 1 0 -3.2 0zM378.83 41.79a1.6 1.6 0 1 0 3.2 0a1.6 1.6 0 1 0 -3.2 0zM382.11 41.93a1.6 1.6 0 1 0 3.2 0a1.6 1.6 0 1 0 -3.2 0zM385.39 42.07a1.6 1.6 0 1 0 3.2 0a1.6 1.6 0 1 0 -3.2 0zM388.68 42.2a1.6 1.6 0 1 0 3.2 0a1.6 1.6 0 1 0 -3.2 0zM391.96 42.32a1.6 1.6 0 1 0 3.2 0a1.6 1.6 0 1 0 -3.2 0zM395.24 42.44a1.6 1.6 0 1 0 3.2 0a1.6 1.6 0 1 0 -3.2 0zM398.52 42.58a1.6 1.6 0 1 0 3.2 0a1.6 1.6 0 1 0 -3.2 0zM401.8 42.72a1.6 1.6 0 1 0 3.2 0a1.6 1.6 0 1 0 -3.2 0zM405.09 42.87a1.6 1.6 0 1 0 3.2 0a1.6 1.6 0 1 0 -3.2 0zM408.37 43.09a1.6 1.6 0 1 0 3.2 0a1.6 1.6 0 1 0 -3.2 0zM411.65 43.29a1.6 1.6 0 1 0 3.2 0a1.6 1.6 0 1 0 -3.2 0zM414.93 43.4a1.6 1.6 0 1 0 3.2 0a1.6 1.6 0 1 0 -3.2 0zM418.22 42.92a1.6 1.6 0 1 0 3.2 0a1.6 1.6 0 1 0 -3.2 0zM421.5 41.58a1.6 1.6 0 1 0 3.2 0a1.6 1.6 0 1 0 -3.2 0zM424.78 40.02a1.6 1.6 0 1 0 3.2 0a1.6 1.6 0 1 0 -3.2 0zM428.06 38.13a1.6 1.6 0 1 0 3.2 0a1.6 1.6 0 1 0 -3.2 0zM431.35 35.94a1.6 1.6 0 1 0 3.2 0a1.6 1.6 0 1 0 -3.2 0zM434.63 34.08a1.6 1.6 0 1 0 3.2 0a1.6 1.6 0 1 0 -3.2 0zM437.91 32.5a1.6 1.6 0 1 0 3.2 0a1.6 1.6 0 1 0 -3.2 0zM441.19 31.01a1.6 1.6 0 1 0 3.2 0a1.6 1.6 0 1 0 -3.2 0zM444.48 30.05a1.6 1.6 0 1 0 3.2 0a1.6 1.6 0 1 0 -3.2 0zM447.76 29.97a1.6 1.6 0 1 0 3.2 0a1.6 1.6 0 1 0 -3.2 0zM451.04 30.51a1.6 1.6 0 1 0 3.2 0a1.6 1.6 0 1 0 -3.2 0zM454.32 31.37a1.6 1.6 0 1 0 3.2 0a1.6 1.6 0 1 0 -3.2 0zM457.61 32.33a1.6 1.6 0 1 0 3.2 0a1.6 1.6 0 1 0 -3.2 0zM460.89 33.27a1.6 1.6 0 1 0 3.2 0a1.6 1.6 0 1 0 -3.2 0zM464.17 34.44a1.6 1.6 0 1 0 3.2 0a1.6 1.6 0 1 0 -3.2 0zM467.45 35.69a1.6 1.6 0 1 0 3.2 0a1.6 1.6 0 1 0 -3.2 0zM470.74 36.88a1.6 1.6 0 1 0 3.2 0a1.6 1.6 0 1 0 -3.2 0zM474.02 37.86a1.6 1.6 0 1 0 3.2 0a1.6 1.6 0 1 0 -3.2 0zM477.3 38.58a1.6 1.6 0 1 0 3.2 0a1.6 1.6 0 1 0 -3.2 0zM480.58 39.21a1.6 1.6 0 1 0 3.2 0a1.6 1.6 0 1 0 -3.2 0zM483.86 39.74a1.6 1.6 0 1 0 3.2 0a1.6 1.6 0 1 0 -3.2 0zM487.15 40.16a1.6 1.6 0 1 0 3.2 0a1.6 1.6 0 1 0 -3.2 0zM490.43 40.49a1.6 1.6 0 1 0 3.2 0a1.6 1.6 0 1 0 -3.2 0z" fill="#ff0000" stroke="none"/>
<path d="M335.33 161.6 L336 119.9 L340.37 88.1 L342.9 91.1 L357.9 95 L361.59 97.4 L363.68 85.4 L366.85 33.5 L368.9 41.3 L369.05 41.32 L369.35 41.35 L369.65 41.39 L369.95 41.43 L370.25 41.46 L370.54 41.5 L370.84 41.53 L371.14 41.56 L371.44 41.58 L371.7 41.6 L371.74 41.6 L372.04 41.62 L372.33 41.64 L372.63 41.65 L372.93 41.67 L373.23 41.68 L373.53 41.7 L373.83 41.71 L374.12 41.72 L374.42 41.74 L374.72 41.75 L375.02 41.76 L375.32 41.77 L375.62 41.78 L375.91 41.8 L376.21 41.81 L376.51 41.82 L376.81 41.83 L377.11 41.84 L377.41 41.85 L377.71 41.86 L378 41.87 L378.3 41.88 L378.6 41.88 L378.9 41.89 L379.2 41.9 L379.5 41.91 L379.79 41.92 L380.09 41.93 L380.39 41.93 L380.69 41.94 L380.99 41.95 L381.29 41.96 L381.58 41.96 L381.88 41.97 L382.18 41.98 L382.48 41.98 L382.78 41.99 L383.08 42 L383.37 42.01 L383.67 42.01 L383.97 42.02 L384.27 42.03 L384.57 42.03 L384.87 42.04 L385.17 42.05 L385.46 42.06 L385.76 42.06 L386.06 42.07 L386.36 42.08 L386.66 42.09 L386.96 42.09 L387.25 42.1 L387.55 42.11 L387.85 42.12 L388.15 42.13 L388.45 42.14 L388.75 42.15 L389.04 42.16 L389.34 42.17 L389.64 42.18 L389.94 42.19 L390.24 42.2 L390.35 42.2 L390.54 42.21 L390.83 42.22 L391.13 42.23 L391.43 42.24 L391.73 42.25 L392.03 42.26 L392.33 42.27 L392.63 42.28 L392.92 42.29 L393.22 42.31 L393.52 42.32 L393.82 42.33 L394.12 42.34 L394.42 42.35 L394.71 42.36 L395.01 42.37 L395.31 42.38 L395.61 42.4 L395.91 42.41 L396.21 42.42 L396.5 42.43 L396.8 42.44 L397.1 42.45 L397.4 42.47 L397.7 42.48 L398 42.49 L398.29 42.5 L398.59 42.51 L398.89 42.53 L399.19 42.54 L399.49 42.55 L399.79 42.56 L400.09 42.58 L400.38 42.59 L400.68 42.6 L400.98 42.61 L401.28 42.63 L401.58 42.64 L401.88 42.65 L402.17 42.66 L402.47 42.68 L402.77 42.69 L403.07 42.7 L403.37 42.72 L403.67 42.73 L403.96 42.74 L404.26 42.75 L404.56 42.77 L404.86 42.78 L405.16 42.79 L405.27 42.8 L405.46 42.81 L405.75 42.82 L406.05 42.84 L406.35 42.85 L406.65 42.87 L406.95 42.89 L407.25 42.91 L407.55 42.93 L407.84 42.95 L408.14 42.96 L408.44 42.98 L408.74 43 L409.04 43.02 L409.34 43.05 L409.63 43.07 L409.93 43.09 L410.23 43.11 L410.53 43.13 L410.83 43.15 L411.13 43.17 L411.42 43.19 L411.72 43.2 L412.02 43.22 L412.32 43.24 L412.62 43.26 L412.92 43.28 L413.21 43.29 L413.51 43.31 L413.81 43.32 L414.11 43.33 L414.41 43.35 L414.71 43.36 L415.01 43.37 L415.3 43.38 L415.6 43.38 L415.9 43.39 L416.2 43.39 L416.5 43.4 L416.8 43.4 L416.98 43.4 L417.09 43.4 L417.39 43.39 L417.69 43.37 L417.99 43.33 L418.29 43.29 L418.59 43.24 L418.88 43.18 L419.18 43.1 L419.48 43.02 L419.78 42.94 L420.08 42.84 L420.38 42.74 L420.67 42.63 L420.97 42.52 L421.27 42.4 L421.57 42.27 L421.87 42.14 L422.17 42.01 L422.47 41.88 L422.76 41.74 L423.06 41.6 L423.36 41.45 L423.66 41.31 L423.96 41.16 L424.26 41.02 L424.55 40.87 L424.85 40.73 L425.15 40.58 L425.45 40.44 L425.75 40.3 L426.05 40.17 L426.2 40.1 L426.34 40.03 L426.64 39.89 L426.94 39.74 L427.24 39.59 L427.54 39.43 L427.84 39.26 L428.13 39.08 L428.43 38.91 L428.73 38.72 L429.03 38.54 L429.33 38.35 L429.63 38.15 L429.93 37.96 L430.22 37.76 L430.52 37.56 L430.82 37.36 L431.12 37.16 L431.42 36.96 L431.72 36.76 L432.01 36.56 L432.31 36.36 L432.61 36.16 L432.91 35.97 L433.21 35.77 L433.51 35.58 L433.8 35.4 L434.1 35.22 L434.4 35.04 L434.7 34.87 L435 34.7 L435.3 34.54 L435.59 34.39 L435.89 34.24 L436.19 34.1 L436.49 33.96 L436.79 33.82 L437.09 33.68 L437.39 33.54 L437.68 33.39 L437.98 33.25 L438.28 33.1 L438.58 32.96 L438.88 32.81 L439.18 32.66 L439.47 32.51 L439.77 32.37 L440.07 32.22 L440.37 32.08 L440.67 31.94 L440.97 31.8 L441.26 31.66 L441.56 31.53 L441.86 31.4 L442.16 31.27 L442.46 31.15 L442.76 31.02 L443.05 30.91 L443.35 30.8 L443.65 30.69 L443.95 30.59 L444.25 30.49 L444.55 30.4 L444.85 30.32 L445.14 30.24 L445.44 30.17 L445.74 30.11 L446.04 30.06 L446.34 30.01 L446.64 29.97 L446.93 29.94 L447.23 29.92 L447.53 29.9 L447.79 29.9 L447.83 29.9 L448.13 29.9 L448.43 29.91 L448.72 29.93 L449.02 29.95 L449.32 29.97 L449.62 30 L449.92 30.03 L450.22 30.07 L450.51 30.11 L450.81 30.16 L451.11 30.21 L451.41 30.26 L451.71 30.31 L452.01 30.37 L452.31 30.44 L452.6 30.5 L452.9 30.57 L453.2 30.64 L453.5 30.71 L453.8 30.79 L454.1 30.87 L454.39 30.95 L454.69 31.03 L454.99 31.11 L455.29 31.19 L455.59 31.28 L455.89 31.36 L456.18 31.45 L456.48 31.54 L456.78 31.62 L457.08 31.71 L457.38 31.8 L457.68 31.89 L457.97 31.97 L458.27 32.06 L458.57 32.15 L458.87 32.23 L459.17 32.32 L459.47 32.4 L459.77 32.48 L460.06 32.56 L460.21 32.6 L460.36 32.64 L460.66 32.72 L460.96 32.8 L461.26 32.89 L461.56 32.98 L461.85 33.07 L462.15 33.16 L462.45 33.26 L462.75 33.36 L463.05 33.46 L463.35 33.56 L463.64 33.66 L463.94 33.77 L464.24 33.87 L464.54 33.98 L464.84 34.09 L465.14 34.2 L465.43 34.31 L465.73 34.42 L466.03 34.53 L466.33 34.65 L466.63 34.76 L466.93 34.88 L467.23 34.99 L467.52 35.1 L467.82 35.22 L468.12 35.33 L468.42 35.45 L468.72 35.56 L469.02 35.68 L469.31 35.79 L469.61 35.9 L469.91 36.01 L470.21 36.13 L470.51 36.24 L470.81 36.34 L471.1 36.45 L471.4 36.56 L471.7 36.66 L472 36.77 L472.3 36.87 L472.6 36.97 L472.89 37.07 L473.19 37.16 L473.49 37.26 L473.79 37.35 L474.09 37.44 L474.39 37.53 L474.69 37.61 L474.98 37.69 L475.28 37.77 L475.58 37.85 L475.88 37.92 L476.18 37.99 L476.21 38 L476.48 38.06 L476.77 38.13 L477.07 38.19 L477.37 38.26 L477.67 38.32 L477.97 38.38 L478.27 38.45 L478.56 38.51 L478.86 38.57 L479.16 38.63 L479.46 38.69 L479.76 38.75 L480.06 38.81 L480.35 38.86 L480.65 38.92 L480.95 38.98 L481.25 39.03 L481.55 39.09 L481.85 39.14 L482.15 39.19 L482.44 39.24 L482.74 39.3 L483.04 39.35 L483.34 39.4 L483.64 39.44 L483.94 39.49 L484.23 39.54 L484.53 39.59 L484.83 39.63 L485.13 39.68 L485.43 39.72 L485.73 39.77 L486.02 39.81 L486.32 39.85 L486.62 39.89 L486.92 39.93 L487.22 39.97 L487.52 40.01 L487.81 40.05 L488.11 40.09 L488.19 40.1 L488.41 40.13 L488.71 40.16 L489.01 40.2 L489.31 40.24 L489.61 40.27 L489.9 40.3 L490.2 40.34 L490.5 40.37 L490.8 40.4 L491.1 40.43 L491.4 40.46 L491.69 40.49 L491.99 40.52 L492.29 40.55 L492.59 40.58 L492.89 40.6 L493.19 40.63 L493.48 40.65 L493.78 40.68 L494.04 40.7" stroke="#0000ff" stroke-width="1.2" fill="none" stroke-linejoin="round"/>
<path d="M358.5 93.3L360.4 96.91L356.6 96.91zM363.68 83.31L365.58 86.92L361.78 86.92zM366.85 31.41L368.75 35.02L364.95 35.02zM368.9 39.21L370.8 42.82L367 42.82zM372.18 39.54L374.08 43.15L370.28 43.15zM375.47 39.69L377.37 43.3L373.57 43.3zM378.75 39.8L380.65 43.41L376.85 43.41zM382.03 39.88L383.93 43.49L380.13 43.49zM385.31 39.96L387.21 43.57L383.41 43.57zM388.6 40.05L390.5 43.66L386.7 43.66zM391.88 40.17L393.78 43.78L389.98 43.78zM395.16 40.29L397.06 43.9L393.26 43.9zM398.44 40.42L400.34 44.03L396.54 44.03zM401.73 40.55L403.63 44.16L399.83 44.16zM405.01 40.7L406.91 44.31L403.11 44.31zM408.29 40.88L410.19 44.49L406.39 44.49zM411.57 41.11L413.47 44.72L409.67 44.72zM414.86 41.27L416.76 44.88L412.96 44.88zM418.14 41.22L420.04 44.83L416.24 44.83zM421.42 40.25L423.32 43.86L419.52 43.86zM424.7 38.71L426.6 42.32L422.8 42.32zM427.99 37.08L429.89 40.69L426.09 40.69zM431.27 34.97L433.17 38.58L429.37 38.58zM434.55 32.86L436.45 36.47L432.65 36.47zM437.83 31.23L439.73 34.84L435.93 34.84zM441.12 29.64L443.02 33.25L439.22 33.25zM444.4 28.36L446.3 31.97L442.5 31.97zM447.68 27.81L449.58 31.42L445.78 31.42zM450.96 28.09L452.86 31.7L449.06 31.7zM454.24 28.82L456.14 32.43L452.34 32.43zM457.53 29.75L459.43 33.36L455.63 33.36zM460.81 30.67L462.71 34.28L458.91 34.28zM464.09 31.73L465.99 35.34L462.19 35.34zM467.37 32.96L469.27 36.57L465.47 36.57zM470.66 34.2L472.56 37.81L468.76 37.81zM473.94 35.31L475.84 38.92L472.04 38.92zM477.22 36.13L479.12 39.74L475.32 39.74zM480.5 36.8L482.4 40.41L478.6 40.41zM483.79 37.38L485.69 40.99L481.89 40.99zM487.07 37.86L488.97 41.47L485.17 41.47zM490.35 38.26L492.25 41.87L488.45 41.87zM493.63 38.58L495.53 42.19L491.73 42.19z" fill="#0000ff" stroke="none"/>
<rect x="334.4" y="11.6" width="186.5" height="150" fill="none" stroke="#333333" stroke-width="1.4"/>
<path d="M371.7 161.6V158.6M409 161.6V158.6M446.3 161.6V158.6M483.6 161.6V158.6M334.4 131.6H337.4M334.4 101.6H337.4M334.4 71.6H337.4M334.4 41.6H337.4" stroke="#333333" stroke-width="1" fill="none"/>
<text x="334.4" y="173.4" text-anchor="middle" class="tk">0</text>
<text x="371.7" y="173.4" text-anchor="middle" class="tk">1000</text>
<text x="409" y="173.4" text-anchor="middle" class="tk">2000</text>
<text x="446.3" y="173.4" text-anchor="middle" class="tk">3000</text>
<text x="483.6" y="173.4" text-anchor="middle" class="tk">4000</text>
<text x="520.9" y="173.4" text-anchor="middle" class="tk">5000</text>
<text x="331" y="165.2" text-anchor="end" class="tk">149</text>
<text x="331" y="135.2" text-anchor="end" class="tk">150</text>
<text x="331" y="105.2" text-anchor="end" class="tk">151</text>
<text x="331" y="75.2" text-anchor="end" class="tk">152</text>
<text x="331" y="45.2" text-anchor="end" class="tk">153</text>
<text x="331" y="15.2" text-anchor="end" class="tk">154</text>
<path d="M357.6 137H376.4" stroke="#ff00ff" stroke-width="1.1" stroke-dasharray="4.8 2.2 1.2 2.2"/>
<path d="M358.2 149.1H376.4" stroke="#339933" stroke-width="1.2" stroke-dasharray="3.6 3.9"/>
<text x="379.2" y="139.0" class="lg" textLength="84.8" lengthAdjust="spacingAndGlyphs">Formation pressure</text>
<text x="379.2" y="151.1" class="lg" textLength="77.8" lengthAdjust="spacingAndGlyphs">Fracture pressure</text>
<rect x="467.9" y="119.8" width="51.5" height="37.7" fill="#fff" stroke="#a0a0a0" stroke-width="0.9"/>
<path d="M468.8 127.4H487.1" stroke="#00ee00" stroke-width="1.1"/>
<path d="M476.05 125.5h3.8v3.8h-3.8z" fill="#00ee00"/>
<text x="489.2" y="131" class="lg" textLength="29.4" lengthAdjust="spacingAndGlyphs">20 mD</text>
<path d="M468.8 139.3H487.1" stroke="#ff0000" stroke-width="1.1"/>
<path d="M475.95 139.3a2 2 0 1 0 4 0a2 2 0 1 0 -4 0z" fill="#ff0000"/>
<text x="489.2" y="142.9" class="lg" textLength="29.4" lengthAdjust="spacingAndGlyphs">30 mD</text>
<path d="M468.8 151.5H487.1" stroke="#0000ff" stroke-width="1.1"/>
<path d="M477.95 149.08L480.15 153.26L475.75 153.26z" fill="#0000ff"/>
<text x="489.2" y="155.1" class="lg" textLength="29.4" lengthAdjust="spacingAndGlyphs">40 mD</text>
<text x="468.4" y="114" class="wb" textLength="49.8" lengthAdjust="spacingAndGlyphs">Water-based</text>
<text x="407.5" y="190.4" class="al" textLength="40.7" lengthAdjust="spacingAndGlyphs">Time (s)</text>
<text transform="translate(304 147.7) rotate(-90)" x="0" y="0" class="al" textLength="135.8" lengthAdjust="spacingAndGlyphs">Bottomhole pressure (MPa)</text>
<text x="309.8" y="208.3" class="cap" textLength="14.8" lengthAdjust="spacingAndGlyphs">(<tspan font-weight="bold">b</tspan>)</text>
<text x="328.1" y="208.3" class="cap" textLength="188.7" lengthAdjust="spacingAndGlyphs">BHP under different permeabilities</text>
<path d="M54.5 234.22 L87.66 234.22 L89.39 298.19 L91.2 337.79 L92.56 330.68 L92.71 330.71 L92.93 330.76 L93.16 330.8 L93.39 330.85 L93.61 330.9 L93.84 330.94 L94.06 330.99 L94.29 331.04 L94.52 331.09 L94.74 331.14 L94.97 331.19 L95.19 331.24 L95.42 331.29 L95.65 331.35 L95.87 331.4 L96.1 331.45 L96.32 331.51 L96.55 331.56 L96.78 331.61 L97 331.67 L97.23 331.73 L97.46 331.78 L97.68 331.84 L97.91 331.9 L98.13 331.95 L98.36 332.01 L98.59 332.07 L98.81 332.13 L99.04 332.19 L99.26 332.25 L99.49 332.31 L99.72 332.37 L99.94 332.43 L100.17 332.5 L100.39 332.56 L100.62 332.62 L100.85 332.69 L101.07 332.76 L101.3 332.82 L101.52 332.89 L101.75 332.96 L101.98 333.03 L102.2 333.1 L102.43 333.17 L102.66 333.24 L102.88 333.31 L103.11 333.39 L103.33 333.46 L103.56 333.53 L103.79 333.61 L104.01 333.68 L104.24 333.76 L104.46 333.83 L104.69 333.91 L104.92 333.99 L105.14 334.06 L105.37 334.14 L105.59 334.22 L105.82 334.3 L106.05 334.37 L106.27 334.45 L106.5 334.53 L106.72 334.61 L106.95 334.69 L107.18 334.77 L107.4 334.85 L107.63 334.92 L107.85 335 L108.08 335.08 L108.31 335.16 L108.53 335.24 L108.76 335.32 L108.99 335.4 L109.21 335.48 L109.44 335.55 L109.66 335.63 L109.89 335.71 L110.12 335.79 L110.34 335.86 L110.57 335.94 L110.79 336.02 L111.02 336.09 L111.25 336.17 L111.47 336.25 L111.7 336.34 L111.92 336.42 L112.15 336.51 L112.38 336.6 L112.6 336.69 L112.83 336.79 L113.05 336.88 L113.28 336.98 L113.51 337.08 L113.73 337.18 L113.96 337.28 L114.19 337.38 L114.41 337.49 L114.64 337.59 L114.86 337.69 L115.09 337.8 L115.32 337.9 L115.54 338.01 L115.77 338.11 L115.99 338.21 L116.22 338.31 L116.45 338.41 L116.67 338.51 L116.9 338.61 L117.12 338.71 L117.35 338.81 L117.58 338.9 L117.8 338.99 L118.03 339.08 L118.25 339.17 L118.48 339.25 L118.71 339.33 L118.93 339.41 L119.16 339.49 L119.38 339.56 L119.61 339.63 L119.84 339.7 L120.06 339.76 L120.29 339.82 L120.52 339.87 L120.74 339.92 L120.97 339.97 L121.19 340.01 L121.42 340.05 L121.65 340.08 L121.87 340.11 L122.1 340.13 L122.32 340.14 L122.55 340.15 L122.78 340.16 L122.81 340.16 L123 340.15 L123.23 340.15 L123.45 340.14 L123.68 340.13 L123.91 340.12 L124.13 340.1 L124.36 340.08 L124.58 340.06 L124.81 340.03 L125.04 340.01 L125.26 339.98 L125.49 339.94 L125.72 339.91 L125.94 339.87 L126.17 339.84 L126.39 339.8 L126.62 339.75 L126.85 339.71 L127.07 339.67 L127.3 339.62 L127.52 339.58 L127.75 339.53 L127.98 339.48 L128.2 339.42 L128.43 339.36 L128.65 339.28 L128.88 339.19 L129.11 339.09 L129.33 338.98 L129.56 338.86 L129.78 338.74 L130.01 338.6 L130.24 338.46 L130.46 338.31 L130.69 338.16 L130.92 337.99 L131.14 337.83 L131.37 337.66 L131.59 337.48 L131.82 337.3 L132.05 337.12 L132.27 336.93 L132.5 336.75 L132.72 336.56 L132.87 336.43 L132.95 336.37 L133.18 336.17 L133.4 335.96 L133.63 335.74 L133.85 335.51 L134.08 335.27 L134.31 335.02 L134.53 334.75 L134.76 334.48 L134.98 334.2 L135.21 333.91 L135.44 333.61 L135.66 333.31 L135.89 332.99 L136.11 332.67 L136.34 332.33 L136.57 331.99 L136.79 331.64 L137.02 331.29 L137.25 330.93 L137.4 330.68 L137.47 330.55 L137.7 330.17 L137.92 329.77 L138.15 329.35 L138.38 328.92 L138.6 328.47 L138.83 328 L139.05 327.52 L139.28 327.03 L139.51 326.53 L139.73 326.01 L139.96 325.48 L140.18 324.93 L140.41 324.38 L140.64 323.81 L140.86 323.23 L141.09 322.64 L141.31 322.04 L141.54 321.43 L141.77 320.81 L141.99 320.18 L142.22 319.55 L142.45 318.9 L142.67 318.25 L142.9 317.59 L143.05 317.14 L143.12 316.91 L143.35 316.2 L143.58 315.43 L143.8 314.62 L144.03 313.77 L144.25 312.89 L144.48 311.97 L144.71 311.03 L144.93 310.07 L145.16 309.1 L145.38 308.12 L145.61 307.13 L145.84 306.14 L146.06 305.16 L146.29 304.2 L146.51 303.24 L146.74 302.31 L146.97 301.41 L147.19 300.54 L147.42 299.7 L147.64 298.91 L147.87 298.16 L148.1 297.47 L148.32 296.83 L148.55 296.24 L148.78 295.66 L149 295.11 L149.23 294.57 L149.45 294.04 L149.68 293.54 L149.91 293.04 L150.13 292.56 L150.36 292.09 L150.58 291.64 L150.81 291.19 L151.04 290.75 L151.26 290.31 L151.49 289.89 L151.71 289.47 L151.94 289.05 L152.17 288.63 L152.39 288.22 L152.62 287.81 L152.84 287.4 L153.07 286.98 L153.3 286.57 L153.52 286.15 L153.6 286 L153.75 285.72 L153.98 285.29 L154.2 284.86 L154.43 284.43 L154.65 284 L154.88 283.57 L155.11 283.14 L155.33 282.71 L155.56 282.29 L155.78 281.87 L156.01 281.45 L156.24 281.04 L156.46 280.63 L156.69 280.23 L156.91 279.84 L157.14 279.46 L157.37 279.08 L157.59 278.72 L157.82 278.36 L158.04 278.02 L158.27 277.69 L158.5 277.37 L158.72 277.06 L158.87 276.87 L158.95 276.77 L159.18 276.48 L159.4 276.18 L159.63 275.87 L159.85 275.57 L160.08 275.26 L160.31 274.95 L160.53 274.65 L160.76 274.34 L160.98 274.03 L161.21 273.73 L161.44 273.43 L161.66 273.14 L161.89 272.85 L162.11 272.57 L162.34 272.3 L162.57 272.04 L162.79 271.78 L163.02 271.54 L163.24 271.3 L163.47 271.08 L163.7 270.88 L163.92 270.69 L164.15 270.51 L164.37 270.35 L164.6 270.2 L164.83 270.08 L165.05 269.97 L165.28 269.89 L165.51 269.82 L165.73 269.78 L165.96 269.76 L166.03 269.76 L166.18 269.77 L166.41 269.8 L166.64 269.87 L166.86 269.97 L167.09 270.09 L167.31 270.24 L167.54 270.4 L167.77 270.59 L167.99 270.79 L168.22 271.01 L168.44 271.24 L168.67 271.47 L168.9 271.72 L169.12 271.97 L169.35 272.23 L169.57 272.48 L169.8 272.73 L170.03 272.98 L170.18 273.14 L170.25 273.22 L170.48 273.48 L170.71 273.76 L170.93 274.05 L171.16 274.35 L171.38 274.67 L171.61 275.01 L171.84 275.36 L172.06 275.71 L172.29 276.08 L172.51 276.46 L172.74 276.84 L172.97 277.23 L173.19 277.63 L173.42 278.03 L173.64 278.43 L173.87 278.84 L174.1 279.24 L174.32 279.65 L174.55 280.06 L174.77 280.46 L175 280.86 L175.23 281.26 L175.45 281.65 L175.68 282.03 L175.83 282.28 L175.9 282.41 L176.13 282.78 L176.36 283.16 L176.58 283.54 L176.81 283.91 L177.04 284.29 L177.26 284.67 L177.49 285.06 L177.71 285.44 L177.94 285.82 L178.17 286.21 L178.39 286.59 L178.62 286.98 L178.84 287.36 L179.07 287.75 L179.3 288.13 L179.52 288.52 L179.75 288.91 L179.97 289.29 L180.2 289.68 L180.43 290.07 L180.65 290.45 L180.88 290.84 L181.1 291.23 L181.33 291.61 L181.56 292 L181.78 292.38 L182.01 292.77 L182.24 293.15 L182.46 293.53 L182.61 293.79 L182.69 293.92 L182.91 294.3 L183.14 294.69 L183.37 295.08 L183.59 295.48 L183.82 295.87 L184.04 296.27 L184.27 296.67 L184.5 297.07 L184.72 297.47 L184.95 297.87 L185.17 298.27 L185.4 298.67 L185.63 299.06 L185.85 299.46 L186.08 299.85 L186.3 300.24 L186.53 300.62 L186.76 301 L186.98 301.38 L187.21 301.75 L187.44 302.11 L187.66 302.47 L187.89 302.82 L188.11 303.17 L188.34 303.5 L188.57 303.83 L188.64 303.94 L188.79 304.16 L189.02 304.48 L189.24 304.8 L189.47 305.12 L189.7 305.43 L189.92 305.75 L190.15 306.06 L190.37 306.37 L190.6 306.68 L190.83 306.99 L191.05 307.29 L191.28 307.58 L191.5 307.88 L191.73 308.17 L191.96 308.45 L192.18 308.73 L192.41 309 L192.63 309.27 L192.86 309.54 L193.09 309.79 L193.31 310.04 L193.54 310.29 L193.77 310.52 L193.99 310.75 L194.22 310.97 L194.44 311.18 L194.67 311.39 L194.9 311.59 L195.12 311.79 L195.35 311.99 L195.57 312.19 L195.8 312.38 L196.03 312.58 L196.25 312.78 L196.48 312.97 L196.7 313.16 L196.93 313.34 L197.16 313.53 L197.38 313.71 L197.61 313.88 L197.83 314.05 L198.06 314.22 L198.29 314.38 L198.51 314.54 L198.74 314.68 L198.97 314.83 L199.19 314.96 L199.42 315.09 L199.64 315.21 L199.87 315.33 L200.1 315.43 L200.32 315.53 L200.55 315.62 L200.77 315.7 L201 315.77 L201.08 315.79 L201.23 315.83 L201.45 315.89 L201.68 315.94 L201.9 316 L202.13 316.05 L202.36 316.11 L202.58 316.16 L202.81 316.21 L203.03 316.26 L203.26 316.3 L203.49 316.35 L203.71 316.39 L203.94 316.43 L204.16 316.47 L204.39 316.51 L204.62 316.54 L204.84 316.58 L205.07 316.61 L205.3 316.64 L205.52 316.67 L205.75 316.69 L205.97 316.72 L206.2 316.74 L206.43 316.76 L206.65 316.77 L206.88 316.79 L207.1 316.8 L207.33 316.81 L207.56 316.83 L207.78 316.84 L208.01 316.85 L208.23 316.86 L208.46 316.87 L208.69 316.88 L208.91 316.89 L209.14 316.9 L209.36 316.91 L209.59 316.92 L209.82 316.93 L210.04 316.94 L210.27 316.95 L210.5 316.96 L210.72 316.97 L210.95 316.98 L211.17 316.99 L211.4 317 L211.63 317 L211.85 317.01 L212.08 317.02 L212.3 317.03 L212.53 317.03 L212.76 317.04 L212.98 317.05 L213.21 317.05 L213.43 317.06 L213.66 317.07 L213.89 317.07 L214.11 317.08 L214.34 317.08 L214.56 317.09 L214.79 317.09 L215.02 317.1 L215.24 317.1 L215.47 317.11 L215.7 317.11 L215.92 317.12 L216.15 317.12 L216.37 317.12 L216.6 317.13 L216.83 317.13 L217.05 317.13 L217.28 317.13 L217.5 317.14 L217.73 317.14 L217.96 317.14 L218.18 317.14 L218.41 317.14 L218.63 317.14 L218.86 317.14 L219.01 317.14" stroke="#00ee00" stroke-width="1.2" fill="none" stroke-linejoin="round"/>
<path d="M87.84 296.64h3.1v3.1h-3.1zM91.01 329.13h3.1v3.1h-3.1zM93.46 329.65h3.1v3.1h-3.1zM95.91 330.23h3.1v3.1h-3.1zM98.35 330.87h3.1v3.1h-3.1zM100.8 331.6h3.1v3.1h-3.1zM103.25 332.4h3.1v3.1h-3.1zM105.7 333.24h3.1v3.1h-3.1zM108.15 334.09h3.1v3.1h-3.1zM110.6 334.96h3.1v3.1h-3.1zM113.05 336.02h3.1v3.1h-3.1zM115.5 337.13h3.1v3.1h-3.1zM117.95 338.05h3.1v3.1h-3.1zM120.4 338.56h3.1v3.1h-3.1zM122.85 338.53h3.1v3.1h-3.1zM125.3 338.16h3.1v3.1h-3.1zM127.74 337.45h3.1v3.1h-3.1zM130.19 335.81h3.1v3.1h-3.1zM132.64 333.59h3.1v3.1h-3.1zM135.09 330.33h3.1v3.1h-3.1zM137.54 325.89h3.1v3.1h-3.1zM139.99 319.88h3.1v3.1h-3.1zM142.44 312.37h3.1v3.1h-3.1zM144.89 302.01h3.1v3.1h-3.1zM147.34 293.83h3.1v3.1h-3.1zM149.79 288.62h3.1v3.1h-3.1zM152.24 284.1h3.1v3.1h-3.1zM154.69 279.49h3.1v3.1h-3.1zM157.14 275.56h3.1v3.1h-3.1zM159.58 272.28h3.1v3.1h-3.1zM162.03 269.43h3.1v3.1h-3.1zM164.48 268.21h3.1v3.1h-3.1zM166.93 269.73h3.1v3.1h-3.1zM169.38 272.5h3.1v3.1h-3.1zM171.83 276.41h3.1v3.1h-3.1zM174.28 280.73h3.1v3.1h-3.1zM180.5 291.28h3.1v3.1h-3.1zM186.71 301.84h3.1v3.1h-3.1zM192.93 309.67h3.1v3.1h-3.1zM199.15 314.12h3.1v3.1h-3.1zM205.37 315.24h3.1v3.1h-3.1zM211.58 315.5h3.1v3.1h-3.1z" fill="#00ee00" stroke="none"/>
<path d="M54.5 234.22 L80.31 234.22 L83.89 304.62 L85.85 335.76 L88.41 330.68 L88.64 330.72 L88.86 330.75 L89.09 330.79 L89.32 330.83 L89.54 330.87 L89.77 330.91 L89.99 330.95 L90.22 330.99 L90.45 331.03 L90.67 331.07 L90.9 331.11 L91.12 331.15 L91.35 331.2 L91.58 331.24 L91.8 331.28 L92.03 331.33 L92.18 331.36 L92.26 331.37 L92.48 331.42 L92.71 331.46 L92.93 331.51 L93.16 331.55 L93.39 331.6 L93.61 331.64 L93.84 331.69 L94.06 331.73 L94.29 331.78 L94.52 331.83 L94.74 331.87 L94.97 331.92 L95.19 331.97 L95.42 332.02 L95.65 332.07 L95.87 332.11 L96.1 332.16 L96.32 332.21 L96.55 332.27 L96.78 332.32 L97 332.37 L97.23 332.42 L97.46 332.47 L97.68 332.53 L97.91 332.58 L98.13 332.64 L98.36 332.69 L98.59 332.75 L98.81 332.81 L99.04 332.87 L99.26 332.93 L99.49 332.99 L99.72 333.05 L99.94 333.11 L100.17 333.17 L100.39 333.24 L100.62 333.31 L100.85 333.38 L101.07 333.45 L101.3 333.52 L101.52 333.59 L101.75 333.67 L101.98 333.74 L102.2 333.82 L102.43 333.9 L102.66 333.98 L102.88 334.06 L103.11 334.14 L103.33 334.22 L103.56 334.3 L103.79 334.39 L104.01 334.47 L104.24 334.56 L104.46 334.64 L104.69 334.73 L104.92 334.81 L105.14 334.9 L105.37 334.99 L105.59 335.08 L105.82 335.16 L106.05 335.25 L106.27 335.34 L106.5 335.43 L106.72 335.52 L106.95 335.6 L107.18 335.69 L107.4 335.78 L107.63 335.87 L107.85 335.95 L108.08 336.04 L108.31 336.13 L108.53 336.21 L108.76 336.3 L108.99 336.38 L109.21 336.47 L109.44 336.55 L109.66 336.63 L109.89 336.72 L110.12 336.8 L110.34 336.88 L110.57 336.95 L110.79 337.03 L111.02 337.11 L111.25 337.19 L111.47 337.27 L111.7 337.35 L111.92 337.43 L112.15 337.52 L112.38 337.6 L112.6 337.69 L112.83 337.78 L113.05 337.87 L113.28 337.96 L113.51 338.06 L113.73 338.15 L113.96 338.24 L114.19 338.34 L114.41 338.43 L114.64 338.53 L114.86 338.62 L115.09 338.72 L115.32 338.81 L115.54 338.91 L115.77 339 L115.99 339.1 L116.22 339.19 L116.45 339.28 L116.67 339.37 L116.9 339.46 L117.12 339.55 L117.35 339.63 L117.58 339.72 L117.8 339.8 L118.03 339.88 L118.25 339.96 L118.48 340.03 L118.71 340.11 L118.93 340.18 L119.16 340.24 L119.38 340.31 L119.61 340.37 L119.84 340.43 L120.06 340.48 L120.29 340.54 L120.52 340.58 L120.74 340.63 L120.97 340.67 L121.19 340.71 L121.42 340.74 L121.65 340.76 L121.87 340.79 L122.1 340.81 L122.32 340.82 L122.55 340.83 L122.78 340.83 L122.81 340.83 L123 340.83 L123.23 340.81 L123.45 340.79 L123.68 340.75 L123.91 340.7 L124.13 340.65 L124.36 340.58 L124.58 340.51 L124.81 340.44 L125.04 340.36 L125.26 340.27 L125.49 340.18 L125.72 340.08 L125.94 339.99 L126.17 339.89 L126.39 339.79 L126.62 339.69 L126.85 339.59 L127.07 339.49 L127.11 339.48 L127.3 339.4 L127.52 339.29 L127.75 339.18 L127.98 339.07 L128.2 338.95 L128.43 338.83 L128.65 338.7 L128.88 338.56 L129.11 338.42 L129.33 338.28 L129.56 338.13 L129.78 337.97 L130.01 337.81 L130.24 337.65 L130.46 337.48 L130.69 337.3 L130.92 337.13 L131.14 336.94 L131.37 336.76 L131.59 336.56 L131.74 336.43 L131.82 336.37 L132.05 336.16 L132.27 335.94 L132.5 335.72 L132.72 335.48 L132.95 335.24 L133.18 334.98 L133.4 334.71 L133.63 334.43 L133.85 334.14 L134.08 333.84 L134.31 333.53 L134.53 333.21 L134.76 332.88 L134.98 332.54 L135.21 332.18 L135.44 331.82 L135.51 331.69 L135.66 331.44 L135.89 331.04 L136.11 330.61 L136.34 330.16 L136.57 329.69 L136.79 329.2 L137.02 328.69 L137.25 328.16 L137.47 327.61 L137.7 327.05 L137.92 326.47 L138.15 325.88 L138.38 325.27 L138.6 324.65 L138.83 324.01 L139.05 323.37 L139.28 322.71 L139.51 322.05 L139.73 321.38 L139.96 320.7 L140.18 320.01 L140.41 319.32 L140.64 318.62 L140.79 318.16 L140.86 317.92 L141.09 317.18 L141.31 316.38 L141.54 315.55 L141.77 314.68 L141.99 313.77 L142.22 312.84 L142.45 311.88 L142.67 310.91 L142.9 309.92 L143.12 308.93 L143.35 307.93 L143.58 306.94 L143.8 305.96 L144.03 304.98 L144.25 304.03 L144.48 303.1 L144.71 302.19 L144.93 301.32 L145.16 300.49 L145.38 299.7 L145.61 298.96 L145.84 298.28 L145.99 297.85 L146.06 297.64 L146.29 297.04 L146.51 296.46 L146.74 295.89 L146.97 295.35 L147.19 294.81 L147.42 294.3 L147.64 293.79 L147.87 293.3 L148.1 292.82 L148.32 292.35 L148.55 291.89 L148.78 291.44 L149 291 L149.23 290.56 L149.45 290.13 L149.68 289.7 L149.91 289.28 L150.13 288.86 L150.36 288.44 L150.58 288.02 L150.81 287.6 L151.04 287.18 L151.26 286.75 L151.3 286.68 L151.49 286.32 L151.71 285.9 L151.94 285.47 L152.17 285.04 L152.39 284.61 L152.62 284.18 L152.84 283.76 L153.07 283.34 L153.3 282.92 L153.52 282.5 L153.75 282.1 L153.98 281.69 L154.2 281.29 L154.43 280.9 L154.65 280.51 L154.88 280.13 L155.11 279.76 L155.33 279.4 L155.56 279.05 L155.78 278.71 L156.01 278.37 L156.24 278.05 L156.46 277.74 L156.61 277.54 L156.69 277.44 L156.91 277.14 L157.14 276.84 L157.37 276.53 L157.59 276.22 L157.82 275.9 L158.04 275.59 L158.27 275.27 L158.5 274.95 L158.72 274.63 L158.95 274.32 L159.18 274.01 L159.4 273.7 L159.63 273.39 L159.85 273.1 L160.08 272.8 L160.31 272.51 L160.53 272.23 L160.76 271.96 L160.98 271.7 L161.21 271.45 L161.44 271.21 L161.66 270.98 L161.89 270.76 L162.11 270.56 L162.34 270.37 L162.57 270.19 L162.79 270.03 L163.02 269.89 L163.24 269.76 L163.47 269.66 L163.7 269.57 L163.92 269.5 L164.15 269.45 L164.37 269.43 L164.53 269.42 L164.6 269.42 L164.83 269.45 L165.05 269.52 L165.28 269.61 L165.51 269.73 L165.73 269.88 L165.96 270.05 L166.18 270.25 L166.41 270.46 L166.64 270.69 L166.86 270.94 L167.09 271.2 L167.31 271.46 L167.54 271.74 L167.77 272.02 L167.99 272.3 L168.22 272.59 L168.44 272.87 L168.67 273.14 L168.9 273.43 L169.12 273.75 L169.35 274.09 L169.57 274.46 L169.8 274.85 L170.03 275.26 L170.25 275.69 L170.48 276.14 L170.71 276.6 L170.93 277.07 L171.16 277.55 L171.38 278.04 L171.61 278.54 L171.84 279.04 L172.06 279.55 L172.29 280.05 L172.51 280.56 L172.74 281.06 L172.97 281.56 L173.19 282.05 L173.42 282.53 L173.64 282.99 L173.87 283.45 L174.1 283.89 L174.32 284.31 L174.55 284.72 L174.77 285.13 L175 285.54 L175.23 285.94 L175.45 286.34 L175.68 286.73 L175.9 287.12 L176.13 287.51 L176.36 287.9 L176.58 288.29 L176.81 288.67 L177.04 289.05 L177.26 289.43 L177.49 289.81 L177.71 290.19 L177.94 290.56 L178.17 290.94 L178.39 291.31 L178.62 291.69 L178.84 292.06 L179.07 292.43 L179.3 292.81 L179.52 293.18 L179.75 293.56 L179.97 293.93 L180.2 294.31 L180.43 294.68 L180.65 295.06 L180.88 295.44 L181.1 295.82 L181.33 296.2 L181.56 296.59 L181.78 296.98 L182.01 297.38 L182.24 297.78 L182.46 298.18 L182.69 298.58 L182.91 298.99 L183.14 299.39 L183.37 299.79 L183.59 300.19 L183.82 300.59 L184.04 300.99 L184.27 301.38 L184.5 301.77 L184.72 302.16 L184.95 302.54 L185.17 302.91 L185.4 303.28 L185.63 303.63 L185.85 303.99 L186.08 304.33 L186.3 304.66 L186.53 304.98 L186.76 305.3 L186.98 305.6 L187.21 305.9 L187.44 306.2 L187.66 306.5 L187.89 306.8 L188.11 307.09 L188.34 307.38 L188.57 307.66 L188.79 307.94 L189.02 308.22 L189.24 308.49 L189.47 308.76 L189.7 309.02 L189.92 309.28 L190.15 309.53 L190.37 309.78 L190.6 310.02 L190.83 310.26 L191.05 310.49 L191.28 310.71 L191.5 310.93 L191.73 311.14 L191.96 311.34 L192.18 311.54 L192.41 311.73 L192.63 311.91 L192.86 312.1 L193.09 312.28 L193.31 312.46 L193.54 312.65 L193.77 312.83 L193.99 313 L194.22 313.18 L194.44 313.35 L194.67 313.53 L194.9 313.69 L195.12 313.86 L195.35 314.02 L195.57 314.18 L195.8 314.33 L196.03 314.47 L196.25 314.62 L196.48 314.75 L196.7 314.89 L196.93 315.01 L197.16 315.13 L197.38 315.24 L197.61 315.35 L197.83 315.45 L198.06 315.54 L198.29 315.62 L198.51 315.7 L198.74 315.77 L198.81 315.79 L198.97 315.83 L199.19 315.89 L199.42 315.94 L199.64 316 L199.87 316.05 L200.1 316.1 L200.32 316.16 L200.55 316.2 L200.77 316.25 L201 316.3 L201.23 316.34 L201.45 316.39 L201.68 316.43 L201.9 316.47 L202.13 316.5 L202.36 316.54 L202.58 316.57 L202.81 316.61 L203.03 316.64 L203.26 316.66 L203.49 316.69 L203.71 316.71 L203.94 316.74 L204.16 316.76 L204.39 316.77 L204.62 316.79 L204.84 316.8 L205.07 316.81 L205.3 316.83 L205.52 316.84 L205.75 316.85 L205.97 316.86 L206.2 316.87 L206.43 316.88 L206.65 316.89 L206.88 316.9 L207.1 316.91 L207.33 316.92 L207.56 316.93 L207.78 316.94 L208.01 316.95 L208.23 316.96 L208.46 316.97 L208.69 316.98 L208.91 316.99 L209.14 317 L209.36 317.01 L209.59 317.01 L209.82 317.02 L210.04 317.03 L210.27 317.04 L210.5 317.04 L210.72 317.05 L210.95 317.06 L211.17 317.06 L211.4 317.07 L211.63 317.08 L211.85 317.08 L212.08 317.09 L212.3 317.09 L212.53 317.1 L212.76 317.1 L212.98 317.11 L213.21 317.11 L213.43 317.11 L213.66 317.12 L213.89 317.12 L214.11 317.12 L214.34 317.13 L214.56 317.13 L214.79 317.13 L215.02 317.13 L215.24 317.14 L215.47 317.14 L215.7 317.14 L215.92 317.14 L216.15 317.14 L216.37 317.14 L216.52 317.14" stroke="#ff0000" stroke-width="1.2" fill="none" stroke-linejoin="round"/>
<path d="M82.29 304.62a1.6 1.6 0 1 0 3.2 0a1.6 1.6 0 1 0 -3.2 0zM87.94 330.87a1.6 1.6 0 1 0 3.2 0a1.6 1.6 0 1 0 -3.2 0zM90.39 331.32a1.6 1.6 0 1 0 3.2 0a1.6 1.6 0 1 0 -3.2 0zM92.84 331.81a1.6 1.6 0 1 0 3.2 0a1.6 1.6 0 1 0 -3.2 0zM95.29 332.34a1.6 1.6 0 1 0 3.2 0a1.6 1.6 0 1 0 -3.2 0zM97.74 332.95a1.6 1.6 0 1 0 3.2 0a1.6 1.6 0 1 0 -3.2 0zM100.19 333.68a1.6 1.6 0 1 0 3.2 0a1.6 1.6 0 1 0 -3.2 0zM102.64 334.56a1.6 1.6 0 1 0 3.2 0a1.6 1.6 0 1 0 -3.2 0zM105.09 335.5a1.6 1.6 0 1 0 3.2 0a1.6 1.6 0 1 0 -3.2 0zM107.54 336.44a1.6 1.6 0 1 0 3.2 0a1.6 1.6 0 1 0 -3.2 0zM109.99 337.31a1.6 1.6 0 1 0 3.2 0a1.6 1.6 0 1 0 -3.2 0zM112.43 338.28a1.6 1.6 0 1 0 3.2 0a1.6 1.6 0 1 0 -3.2 0zM114.88 339.3a1.6 1.6 0 1 0 3.2 0a1.6 1.6 0 1 0 -3.2 0zM117.33 340.18a1.6 1.6 0 1 0 3.2 0a1.6 1.6 0 1 0 -3.2 0zM119.78 340.73a1.6 1.6 0 1 0 3.2 0a1.6 1.6 0 1 0 -3.2 0zM122.23 340.72a1.6 1.6 0 1 0 3.2 0a1.6 1.6 0 1 0 -3.2 0zM124.68 339.84a1.6 1.6 0 1 0 3.2 0a1.6 1.6 0 1 0 -3.2 0zM127.13 338.65a1.6 1.6 0 1 0 3.2 0a1.6 1.6 0 1 0 -3.2 0zM129.58 336.91a1.6 1.6 0 1 0 3.2 0a1.6 1.6 0 1 0 -3.2 0zM132.03 334.43a1.6 1.6 0 1 0 3.2 0a1.6 1.6 0 1 0 -3.2 0zM134.48 330.68a1.6 1.6 0 1 0 3.2 0a1.6 1.6 0 1 0 -3.2 0zM136.93 324.86a1.6 1.6 0 1 0 3.2 0a1.6 1.6 0 1 0 -3.2 0zM139.38 317.55a1.6 1.6 0 1 0 3.2 0a1.6 1.6 0 1 0 -3.2 0zM141.82 307.6a1.6 1.6 0 1 0 3.2 0a1.6 1.6 0 1 0 -3.2 0zM144.27 298.17a1.6 1.6 0 1 0 3.2 0a1.6 1.6 0 1 0 -3.2 0zM146.72 292.35a1.6 1.6 0 1 0 3.2 0a1.6 1.6 0 1 0 -3.2 0zM149.17 287.67a1.6 1.6 0 1 0 3.2 0a1.6 1.6 0 1 0 -3.2 0zM151.62 283.06a1.6 1.6 0 1 0 3.2 0a1.6 1.6 0 1 0 -3.2 0zM154.07 278.88a1.6 1.6 0 1 0 3.2 0a1.6 1.6 0 1 0 -3.2 0zM156.52 275.48a1.6 1.6 0 1 0 3.2 0a1.6 1.6 0 1 0 -3.2 0zM158.97 272.19a1.6 1.6 0 1 0 3.2 0a1.6 1.6 0 1 0 -3.2 0zM161.42 269.89a1.6 1.6 0 1 0 3.2 0a1.6 1.6 0 1 0 -3.2 0zM163.87 269.71a1.6 1.6 0 1 0 3.2 0a1.6 1.6 0 1 0 -3.2 0zM166.32 272.21a1.6 1.6 0 1 0 3.2 0a1.6 1.6 0 1 0 -3.2 0zM168.77 275.91a1.6 1.6 0 1 0 3.2 0a1.6 1.6 0 1 0 -3.2 0zM171.22 281.23a1.6 1.6 0 1 0 3.2 0a1.6 1.6 0 1 0 -3.2 0zM172.72 284.31a1.6 1.6 0 1 0 3.2 0a1.6 1.6 0 1 0 -3.2 0zM178.94 294.87a1.6 1.6 0 1 0 3.2 0a1.6 1.6 0 1 0 -3.2 0zM185.16 305.3a1.6 1.6 0 1 0 3.2 0a1.6 1.6 0 1 0 -3.2 0zM191.37 312.19a1.6 1.6 0 1 0 3.2 0a1.6 1.6 0 1 0 -3.2 0zM197.59 315.89a1.6 1.6 0 1 0 3.2 0a1.6 1.6 0 1 0 -3.2 0zM203.81 316.83a1.6 1.6 0 1 0 3.2 0a1.6 1.6 0 1 0 -3.2 0zM210.03 317.08a1.6 1.6 0 1 0 3.2 0a1.6 1.6 0 1 0 -3.2 0z" fill="#ff0000" stroke="none"/>
<path d="M54.5 234.22 L80.31 234.22 L86.19 335.76 L88.3 330 L88.41 330.02 L88.64 330.06 L88.86 330.09 L89.09 330.13 L89.32 330.17 L89.54 330.2 L89.77 330.24 L89.99 330.28 L90.22 330.32 L90.45 330.36 L90.67 330.4 L90.9 330.44 L91.12 330.48 L91.35 330.52 L91.58 330.56 L91.8 330.61 L92.03 330.65 L92.18 330.68 L92.26 330.69 L92.48 330.74 L92.71 330.78 L92.93 330.83 L93.16 330.87 L93.39 330.92 L93.61 330.96 L93.84 331.01 L94.06 331.05 L94.29 331.1 L94.52 331.15 L94.74 331.19 L94.97 331.24 L95.19 331.29 L95.42 331.34 L95.65 331.39 L95.87 331.43 L96.1 331.48 L96.32 331.53 L96.55 331.59 L96.78 331.64 L97 331.69 L97.23 331.74 L97.46 331.8 L97.68 331.85 L97.91 331.91 L98.13 331.96 L98.36 332.02 L98.59 332.07 L98.81 332.13 L99.04 332.19 L99.26 332.25 L99.49 332.31 L99.72 332.37 L99.94 332.43 L100.17 332.5 L100.39 332.56 L100.62 332.63 L100.85 332.7 L101.07 332.77 L101.3 332.84 L101.52 332.91 L101.75 332.99 L101.98 333.06 L102.2 333.14 L102.43 333.21 L102.66 333.29 L102.88 333.37 L103.11 333.45 L103.33 333.53 L103.56 333.61 L103.79 333.7 L104.01 333.78 L104.24 333.86 L104.46 333.95 L104.69 334.03 L104.92 334.12 L105.14 334.2 L105.37 334.29 L105.59 334.38 L105.82 334.46 L106.05 334.55 L106.27 334.64 L106.5 334.73 L106.72 334.81 L106.95 334.9 L107.18 334.99 L107.4 335.08 L107.63 335.16 L107.85 335.25 L108.08 335.34 L108.31 335.43 L108.53 335.51 L108.76 335.6 L108.99 335.69 L109.21 335.77 L109.44 335.86 L109.66 335.94 L109.89 336.02 L110.12 336.11 L110.34 336.19 L110.57 336.27 L110.79 336.35 L111.02 336.43 L111.25 336.51 L111.47 336.6 L111.7 336.68 L111.92 336.77 L112.15 336.86 L112.38 336.95 L112.6 337.05 L112.83 337.15 L113.05 337.24 L113.28 337.34 L113.51 337.44 L113.73 337.54 L113.96 337.65 L114.19 337.75 L114.41 337.85 L114.64 337.96 L114.86 338.06 L115.09 338.16 L115.32 338.27 L115.54 338.37 L115.77 338.47 L115.99 338.58 L116.22 338.68 L116.45 338.78 L116.67 338.88 L116.9 338.97 L117.12 339.07 L117.35 339.16 L117.58 339.26 L117.8 339.35 L118.03 339.44 L118.25 339.52 L118.48 339.61 L118.71 339.69 L118.93 339.77 L119.16 339.84 L119.38 339.91 L119.61 339.98 L119.84 340.05 L120.06 340.11 L120.29 340.16 L120.52 340.22 L120.74 340.27 L120.97 340.31 L121.19 340.35 L121.42 340.39 L121.65 340.42 L121.87 340.44 L122.1 340.47 L122.32 340.48 L122.55 340.49 L122.78 340.49 L122.81 340.49 L123 340.49 L123.23 340.47 L123.45 340.45 L123.68 340.41 L123.91 340.37 L124.13 340.31 L124.36 340.25 L124.58 340.18 L124.81 340.11 L125.04 340.02 L125.26 339.94 L125.49 339.85 L125.72 339.75 L125.94 339.66 L126.17 339.56 L126.39 339.46 L126.62 339.36 L126.85 339.26 L127.07 339.16 L127.11 339.14 L127.3 339.05 L127.52 338.95 L127.75 338.83 L127.98 338.7 L128.2 338.57 L128.43 338.44 L128.65 338.29 L128.88 338.14 L129.11 337.98 L129.33 337.82 L129.56 337.65 L129.78 337.47 L130.01 337.29 L130.24 337.11 L130.46 336.92 L130.69 336.72 L130.92 336.52 L131.14 336.32 L131.37 336.11 L131.59 335.9 L131.74 335.76 L131.82 335.68 L132.05 335.46 L132.27 335.22 L132.5 334.98 L132.72 334.73 L132.95 334.46 L133.18 334.19 L133.4 333.9 L133.63 333.6 L133.85 333.3 L134.08 332.98 L134.31 332.65 L134.53 332.3 L134.76 331.95 L134.98 331.58 L135.21 331.2 L135.44 330.81 L135.51 330.68 L135.66 330.4 L135.89 329.97 L136.11 329.51 L136.34 329.03 L136.57 328.52 L136.79 327.99 L137.02 327.44 L137.25 326.86 L137.47 326.27 L137.7 325.66 L137.92 325.04 L138.15 324.39 L138.38 323.74 L138.6 323.07 L138.83 322.38 L139.05 321.69 L139.28 320.99 L139.51 320.27 L139.73 319.55 L139.96 318.83 L140.18 318.09 L140.41 317.36 L140.64 316.62 L140.79 316.13 L140.86 315.88 L141.09 315.09 L141.31 314.25 L141.54 313.37 L141.77 312.45 L141.99 311.5 L142.22 310.52 L142.45 309.52 L142.67 308.5 L142.9 307.47 L143.12 306.44 L143.35 305.4 L143.58 304.37 L143.8 303.35 L144.03 302.35 L144.25 301.36 L144.48 300.41 L144.71 299.49 L144.93 298.6 L145.16 297.76 L145.38 296.97 L145.61 296.23 L145.84 295.56 L145.99 295.14 L146.06 294.94 L146.29 294.36 L146.51 293.8 L146.74 293.27 L146.97 292.75 L147.19 292.25 L147.42 291.77 L147.64 291.3 L147.87 290.84 L148.1 290.4 L148.32 289.97 L148.55 289.55 L148.78 289.14 L149 288.73 L149.23 288.33 L149.45 287.93 L149.68 287.54 L149.91 287.14 L150.13 286.75 L150.36 286.35 L150.58 285.95 L150.81 285.55 L151.04 285.14 L151.26 284.72 L151.3 284.65 L151.49 284.3 L151.71 283.87 L151.94 283.44 L152.17 283.01 L152.39 282.58 L152.62 282.15 L152.84 281.72 L153.07 281.3 L153.3 280.87 L153.52 280.44 L153.75 280.02 L153.98 279.61 L154.2 279.19 L154.43 278.78 L154.65 278.38 L154.88 277.98 L155.11 277.59 L155.33 277.2 L155.56 276.83 L155.78 276.45 L156.01 276.09 L156.24 275.74 L156.46 275.4 L156.61 275.17 L156.69 275.06 L156.91 274.72 L157.14 274.37 L157.37 274.02 L157.59 273.65 L157.82 273.29 L158.04 272.91 L158.27 272.54 L158.5 272.17 L158.72 271.79 L158.95 271.42 L159.18 271.05 L159.4 270.69 L159.63 270.34 L159.85 269.99 L160.08 269.65 L160.31 269.33 L160.53 269.01 L160.76 268.71 L160.98 268.43 L161.21 268.16 L161.44 267.91 L161.66 267.68 L161.89 267.47 L162.11 267.28 L162.34 267.12 L162.57 266.98 L162.79 266.87 L163.02 266.79 L163.24 266.73 L163.47 266.71 L163.51 266.71 L163.7 266.73 L163.92 266.8 L164.15 266.91 L164.37 267.07 L164.6 267.26 L164.83 267.49 L165.05 267.74 L165.28 268.03 L165.51 268.33 L165.73 268.66 L165.96 269 L166.18 269.35 L166.41 269.7 L166.64 270.06 L166.86 270.42 L167.09 270.77 L167.31 271.12 L167.54 271.45 L167.77 271.78 L167.99 272.14 L168.22 272.5 L168.44 272.89 L168.67 273.28 L168.9 273.69 L169.12 274.12 L169.35 274.55 L169.57 274.99 L169.8 275.44 L170.03 275.89 L170.25 276.35 L170.48 276.82 L170.71 277.29 L170.93 277.76 L171.16 278.23 L171.38 278.7 L171.61 279.16 L171.84 279.63 L172.06 280.09 L172.29 280.54 L172.51 280.99 L172.74 281.43 L172.97 281.86 L173.19 282.28 L173.38 282.62 L173.42 282.69 L173.64 283.09 L173.87 283.49 L174.1 283.88 L174.32 284.27 L174.55 284.66 L174.77 285.05 L175 285.43 L175.23 285.81 L175.45 286.19 L175.68 286.57 L175.9 286.95 L176.13 287.32 L176.36 287.7 L176.58 288.07 L176.81 288.44 L177.04 288.81 L177.26 289.18 L177.49 289.55 L177.71 289.91 L177.94 290.28 L178.17 290.65 L178.39 291.02 L178.62 291.39 L178.84 291.76 L179.07 292.13 L179.3 292.5 L179.52 292.87 L179.75 293.25 L179.97 293.62 L180.2 294 L180.28 294.13 L180.43 294.38 L180.65 294.76 L180.88 295.15 L181.1 295.54 L181.33 295.94 L181.56 296.34 L181.78 296.73 L182.01 297.13 L182.24 297.53 L182.46 297.93 L182.69 298.33 L182.91 298.73 L183.14 299.13 L183.37 299.53 L183.59 299.92 L183.82 300.31 L184.04 300.69 L184.27 301.07 L184.5 301.45 L184.72 301.82 L184.95 302.18 L185.17 302.54 L185.4 302.89 L185.63 303.23 L185.85 303.56 L186.08 303.89 L186.12 303.94 L186.3 304.21 L186.53 304.52 L186.76 304.84 L186.98 305.15 L187.21 305.46 L187.44 305.77 L187.66 306.07 L187.89 306.38 L188.11 306.68 L188.34 306.97 L188.57 307.26 L188.79 307.55 L189.02 307.84 L189.24 308.12 L189.47 308.39 L189.7 308.66 L189.92 308.92 L190.15 309.18 L190.37 309.43 L190.6 309.68 L190.83 309.92 L191.05 310.15 L191.28 310.38 L191.5 310.6 L191.73 310.81 L191.96 311.02 L191.99 311.05 L192.18 311.21 L192.41 311.41 L192.63 311.61 L192.86 311.81 L193.09 312.01 L193.31 312.2 L193.54 312.4 L193.77 312.59 L193.99 312.78 L194.22 312.97 L194.44 313.15 L194.67 313.33 L194.9 313.51 L195.12 313.68 L195.35 313.84 L195.57 314.01 L195.8 314.16 L196.03 314.31 L196.25 314.46 L196.48 314.6 L196.7 314.73 L196.93 314.85 L197.16 314.97 L197.38 315.07 L197.61 315.17 L197.83 315.26 L198.06 315.34 L198.29 315.42 L198.4 315.45 L198.51 315.48 L198.74 315.54 L198.97 315.6 L199.19 315.66 L199.42 315.71 L199.64 315.77 L199.87 315.82 L200.1 315.87 L200.32 315.92 L200.55 315.97 L200.77 316.01 L201 316.05 L201.23 316.1 L201.45 316.14 L201.68 316.17 L201.9 316.21 L202.13 316.24 L202.36 316.28 L202.58 316.31 L202.81 316.33 L203.03 316.36 L203.26 316.38 L203.49 316.41 L203.71 316.43 L203.94 316.44 L204.16 316.46 L204.28 316.46 L204.39 316.47 L204.62 316.48 L204.84 316.5 L205.07 316.51 L205.3 316.52 L205.52 316.53 L205.75 316.54 L205.97 316.55 L206.2 316.56 L206.43 316.58 L206.65 316.59 L206.88 316.6 L207.1 316.61 L207.33 316.62 L207.56 316.63 L207.78 316.64 L208.01 316.64 L208.23 316.65 L208.46 316.66 L208.69 316.67 L208.91 316.68 L209.14 316.69 L209.36 316.7 L209.59 316.7 L209.82 316.71 L210.04 316.72 L210.27 316.72 L210.5 316.73 L210.72 316.74 L210.95 316.74 L211.17 316.75 L211.4 316.75 L211.63 316.76 L211.85 316.76 L212.08 316.77 L212.3 316.77 L212.53 316.78 L212.76 316.78 L212.98 316.78 L213.21 316.79 L213.43 316.79 L213.66 316.79 L213.89 316.8 L214.11 316.8 L214.34 316.8 L214.56 316.8 L214.79 316.8 L215.02 316.8 L215.24 316.8 L215.39 316.8" stroke="#0000ff" stroke-width="1.2" fill="none" stroke-linejoin="round"/>
<path d="M54.5 232.13L56.4 235.74L52.6 235.74zM78.2 232.13L80.1 235.74L76.3 235.74zM83.89 293.96L85.79 297.57L81.99 297.57zM88.3 327.91L90.2 331.52L86.4 331.52zM90.75 328.32L92.65 331.93L88.85 331.93zM93.2 328.79L95.1 332.4L91.3 332.4zM95.65 329.3L97.55 332.91L93.75 332.91zM98.1 329.86L100 333.47L96.2 333.47zM100.54 330.52L102.44 334.13L98.64 334.13zM102.99 331.32L104.89 334.93L101.09 334.93zM105.44 332.23L107.34 335.84L103.54 335.84zM107.89 333.18L109.79 336.79L105.99 336.79zM110.34 334.1L112.24 337.71L108.44 337.71zM112.79 335.04L114.69 338.65L110.89 338.65zM115.24 336.14L117.14 339.75L113.34 339.75zM117.69 337.21L119.59 340.82L115.79 340.82zM120.14 338.04L122.04 341.65L118.24 341.65zM122.59 338.4L124.49 342.01L120.69 342.01zM125.04 337.93L126.94 341.54L123.14 341.54zM127.49 336.87L129.39 340.48L125.59 340.48zM129.94 335.26L131.84 338.87L128.04 338.87zM132.38 333.01L134.28 336.62L130.48 336.62zM134.83 329.74L136.73 333.35L132.93 333.35zM137.28 324.68L139.18 328.29L135.38 328.29zM139.73 317.46L141.63 321.07L137.83 321.07zM142.18 308.6L144.08 312.21L140.28 312.21zM144.63 297.7L146.53 301.31L142.73 301.31zM147.08 290.41L148.98 294.02L145.18 294.02zM149.53 285.71L151.43 289.32L147.63 289.32zM151.98 281.28L153.88 284.89L150.08 284.89zM154.43 276.69L156.33 280.3L152.53 280.3zM156.88 272.69L158.78 276.3L154.98 276.3zM159.33 268.72L161.23 272.33L157.43 272.33zM161.77 265.48L163.67 269.09L159.87 269.09zM164.22 264.87L166.12 268.48L162.32 268.48zM166.67 268.03L168.57 271.64L164.77 271.64zM169.12 272.03L171.02 275.64L167.22 275.64zM171.57 277L173.47 280.61L169.67 280.61zM174.02 281.66L175.92 285.27L172.12 285.27zM175.6 284.36L177.5 287.97L173.7 287.97zM181.63 294.38L183.53 297.99L179.73 297.99zM187.66 303.98L189.56 307.59L185.76 307.59zM193.69 310.44L195.59 314.05L191.79 314.05zM199.72 313.69L201.62 317.3L197.82 317.3zM205.75 314.45L207.65 318.06L203.85 318.06zM211.78 314.67L213.68 318.28L209.88 318.28z" fill="#0000ff" stroke="none"/>
<rect x="54.5" y="217.3" width="188.4" height="152.3" fill="none" stroke="#333333" stroke-width="1.4"/>
<path d="M92.18 369.6V366.6M129.86 369.6V366.6M167.54 369.6V366.6M205.22 369.6V366.6M54.5 335.76H57.5M54.5 301.91H57.5M54.5 268.07H57.5" stroke="#333333" stroke-width="1" fill="none"/>
<text x="54.5" y="381.4" text-anchor="middle" class="tk">0</text>
<text x="92.18" y="381.4" text-anchor="middle" class="tk">1000</text>
<text x="129.86" y="381.4" text-anchor="middle" class="tk">2000</text>
<text x="167.54" y="381.4" text-anchor="middle" class="tk">3000</text>
<text x="205.22" y="381.4" text-anchor="middle" class="tk">4000</text>
<text x="242.9" y="381.4" text-anchor="middle" class="tk">5000</text>
<text x="51.1" y="373.2" text-anchor="end" class="tk">0.2</text>
<text x="51.1" y="339.36" text-anchor="end" class="tk">0.3</text>
<text x="51.1" y="305.51" text-anchor="end" class="tk">0.4</text>
<text x="51.1" y="271.67" text-anchor="end" class="tk">0.5</text>
<text x="51.1" y="237.82" text-anchor="end" class="tk">0.6</text>
<rect x="188.2" y="221.3" width="52.5" height="38.4" fill="#fff" stroke="#a0a0a0" stroke-width="0.9"/>
<path d="M189.1 228.8H207.4" stroke="#00ee00" stroke-width="1.1"/>
<path d="M196.35 226.9h3.8v3.8h-3.8z" fill="#00ee00"/>
<text x="209.9" y="232.4" class="lg" textLength="29.4" lengthAdjust="spacingAndGlyphs">20 mD</text>
<path d="M189.1 241H207.4" stroke="#ff0000" stroke-width="1.1"/>
<path d="M196.25 241a2 2 0 1 0 4 0a2 2 0 1 0 -4 0z" fill="#ff0000"/>
<text x="209.9" y="244.6" class="lg" textLength="29.4" lengthAdjust="spacingAndGlyphs">30 mD</text>
<path d="M189.1 253H207.4" stroke="#0000ff" stroke-width="1.1"/>
<path d="M198.25 250.58L200.45 254.76L196.05 254.76z" fill="#0000ff"/>
<text x="209.9" y="256.6" class="lg" textLength="29.4" lengthAdjust="spacingAndGlyphs">40 mD</text>
<text x="189.1" y="270.5" class="wb" textLength="49.2" lengthAdjust="spacingAndGlyphs">Water-based</text>
<text x="128.2" y="398.8" class="al" textLength="41.1" lengthAdjust="spacingAndGlyphs">Time (s)</text>
<text transform="translate(26.9 327.6) rotate(-90)" x="0" y="0" class="al" textLength="76.4" lengthAdjust="spacingAndGlyphs">Choke opening</text>
<text x="4.5" y="419.6" class="cap" textLength="13.3" lengthAdjust="spacingAndGlyphs">(<tspan font-weight="bold">c</tspan>)</text>
<text x="20.8" y="419.6" class="cap" textLength="245.4" lengthAdjust="spacingAndGlyphs">Choke opening under different permeabilities</text>
<path d="M329.5 356.98 L331.22 358.82 L335.88 352.59 L364.01 350.89 L365.24 334.8 L366.23 311.39 L366.42 311.36 L366.65 311.31 L366.88 311.26 L367.11 311.22 L367.34 311.17 L367.57 311.12 L367.8 311.07 L368.03 311.02 L368.26 310.97 L368.48 310.92 L368.71 310.86 L368.94 310.81 L369.17 310.75 L369.4 310.69 L369.63 310.64 L369.86 310.58 L370.09 310.52 L370.32 310.46 L370.55 310.4 L370.78 310.33 L371.01 310.27 L371.24 310.2 L371.39 310.16 L371.47 310.14 L371.69 310.07 L371.92 310 L372.15 309.94 L372.38 309.87 L372.61 309.8 L372.84 309.73 L373.07 309.65 L373.3 309.58 L373.53 309.51 L373.76 309.43 L373.99 309.36 L374.22 309.28 L374.45 309.21 L374.68 309.13 L374.91 309.05 L375.13 308.97 L375.36 308.89 L375.59 308.81 L375.82 308.72 L376.05 308.64 L376.28 308.55 L376.51 308.47 L376.74 308.38 L376.97 308.29 L377.2 308.2 L377.43 308.11 L377.66 308.02 L377.89 307.93 L378.12 307.84 L378.35 307.74 L378.57 307.65 L378.8 307.55 L379.03 307.45 L379.26 307.35 L379.49 307.25 L379.72 307.15 L379.95 307.05 L380.18 306.94 L380.41 306.84 L380.64 306.73 L380.87 306.62 L381.1 306.51 L381.33 306.4 L381.56 306.29 L381.78 306.18 L382.01 306.06 L382.24 305.94 L382.28 305.93 L382.47 305.83 L382.7 305.71 L382.93 305.58 L383.16 305.45 L383.39 305.32 L383.62 305.19 L383.85 305.05 L384.08 304.91 L384.31 304.77 L384.54 304.63 L384.77 304.48 L385 304.33 L385.22 304.18 L385.45 304.03 L385.68 303.87 L385.91 303.71 L386.14 303.55 L386.37 303.39 L386.6 303.22 L386.83 303.05 L387.06 302.88 L387.29 302.71 L387.52 302.54 L387.75 302.36 L387.98 302.19 L388.21 302.01 L388.44 301.83 L388.66 301.65 L388.89 301.46 L389.12 301.28 L389.35 301.09 L389.58 300.91 L389.81 300.72 L390.04 300.53 L390.27 300.34 L390.5 300.15 L390.73 299.96 L390.96 299.77 L391.19 299.57 L391.42 299.38 L391.65 299.18 L391.88 298.99 L392.1 298.79 L392.33 298.6 L392.56 298.4 L392.79 298.2 L393.02 298 L393.21 297.84 L393.25 297.81 L393.48 297.61 L393.71 297.41 L393.94 297.22 L394.17 297.02 L394.4 296.82 L394.63 296.62 L394.86 296.42 L395.09 296.23 L395.31 296.02 L395.54 295.82 L395.77 295.62 L396 295.42 L396.23 295.21 L396.46 295.01 L396.69 294.8 L396.92 294.59 L397.15 294.38 L397.38 294.16 L397.61 293.94 L397.84 293.73 L398.07 293.5 L398.3 293.28 L398.53 293.05 L398.75 292.82 L398.98 292.59 L399.21 292.35 L399.44 292.11 L399.67 291.87 L399.9 291.62 L400.13 291.37 L400.36 291.11 L400.59 290.85 L400.82 290.59 L401.05 290.32 L401.28 290.04 L401.51 289.77 L401.74 289.48 L401.97 289.19 L402.19 288.9 L402.42 288.6 L402.65 288.3 L402.88 287.99 L403 287.83 L403.11 287.67 L403.34 287.33 L403.57 286.98 L403.8 286.61 L404.03 286.22 L404.26 285.82 L404.49 285.4 L404.72 284.97 L404.95 284.54 L405.18 284.09 L405.4 283.63 L405.63 283.17 L405.86 282.7 L406.09 282.22 L406.32 281.75 L406.55 281.27 L406.78 280.79 L407.01 280.31 L407.24 279.84 L407.47 279.37 L407.7 278.9 L407.85 278.59 L407.93 278.44 L408.16 277.98 L408.39 277.51 L408.62 277.05 L408.84 276.58 L409.07 276.11 L409.3 275.64 L409.53 275.16 L409.76 274.68 L409.99 274.19 L410.22 273.7 L410.45 273.2 L410.68 272.69 L410.91 272.18 L411.14 271.66 L411.37 271.13 L411.6 270.59 L411.83 270.04 L412.06 269.48 L412.28 268.92 L412.51 268.35 L412.74 267.77 L412.97 267.19 L413.2 266.6 L413.43 266.01 L413.66 265.42 L413.89 264.83 L413.93 264.73 L414.12 264.23 L414.35 263.6 L414.58 262.95 L414.81 262.28 L415.04 261.6 L415.27 260.91 L415.5 260.22 L415.72 259.53 L415.95 258.84 L416.18 258.16 L416.41 257.49 L416.64 256.84 L416.87 256.21 L417.1 255.61 L417.33 255.04 L417.56 254.5 L417.79 254 L418.02 253.54 L418.13 253.33 L418.25 253.13 L418.48 252.72 L418.71 252.32 L418.93 251.92 L419.16 251.53 L419.39 251.14 L419.62 250.77 L419.85 250.42 L420.08 250.08 L420.31 249.76 L420.54 249.46 L420.77 249.18 L421 248.93 L421.23 248.7 L421.46 248.5 L421.69 248.34 L421.92 248.21 L421.99 248.18 L422.15 248.11 L422.37 248.01 L422.6 247.92 L422.83 247.83 L423.06 247.74 L423.29 247.66 L423.52 247.58 L423.75 247.51 L423.98 247.44 L424.21 247.38 L424.44 247.33 L424.67 247.28 L424.9 247.25 L425.13 247.22 L425.36 247.19 L425.59 247.18 L425.81 247.17 L426.04 247.19 L426.27 247.22 L426.5 247.27 L426.73 247.34 L426.96 247.43 L427.19 247.53 L427.42 247.65 L427.65 247.78 L427.88 247.91 L428.11 248.05 L428.34 248.2 L428.57 248.35 L428.8 248.51 L428.87 248.56 L429.02 248.67 L429.25 248.88 L429.48 249.12 L429.71 249.39 L429.94 249.69 L430.17 250.01 L430.4 250.35 L430.63 250.7 L430.86 251.06 L431.09 251.43 L431.32 251.78 L431.55 252.13 L431.78 252.47 L432.01 252.79 L432.24 253.09 L432.31 253.18 L432.46 253.36 L432.69 253.61 L432.92 253.84 L433.15 254.06 L433.38 254.27 L433.61 254.47 L433.84 254.67 L434.07 254.87 L434.3 255.08 L434.53 255.3 L434.76 255.53 L434.99 255.78 L435.22 256.05 L435.45 256.35 L435.68 256.67 L435.9 257.03 L436.13 257.46 L436.36 257.99 L436.59 258.6 L436.82 259.28 L437.05 260.02 L437.28 260.79 L437.51 261.59 L437.74 262.4 L437.97 263.2 L438.2 263.98 L438.43 264.73 L438.66 265.46 L438.89 266.19 L439.11 266.92 L439.34 267.66 L439.57 268.4 L439.8 269.14 L440.03 269.89 L440.26 270.65 L440.49 271.41 L440.72 272.17 L440.95 272.93 L441.18 273.71 L441.41 274.48 L441.48 274.74 L441.64 275.26 L441.87 276.05 L442.1 276.84 L442.33 277.65 L442.55 278.45 L442.78 279.27 L443.01 280.08 L443.24 280.9 L443.47 281.72 L443.7 282.53 L443.93 283.35 L444.16 284.17 L444.39 284.98 L444.54 285.52 L444.62 285.79 L444.85 286.62 L445.08 287.47 L445.31 288.34 L445.54 289.21 L445.77 290.08 L445.99 290.95 L446.22 291.8 L446.45 292.64 L446.68 293.45 L446.91 294.23 L447.14 294.96 L447.37 295.66 L447.6 296.3 L447.83 296.9 L448.06 297.49 L448.29 298.06 L448.52 298.62 L448.75 299.16 L448.98 299.68 L449.21 300.2 L449.43 300.69 L449.66 301.18 L449.89 301.66 L450.12 302.12 L450.35 302.57 L450.58 303.02 L450.81 303.45 L451.04 303.88 L451.27 304.3 L451.5 304.72 L451.73 305.12 L451.96 305.53 L452.19 305.93 L452.42 306.32 L452.64 306.71 L452.87 307.09 L453.1 307.46 L453.33 307.84 L453.56 308.2 L453.79 308.56 L454.02 308.92 L454.25 309.27 L454.48 309.61 L454.71 309.96 L454.94 310.29 L455.17 310.62 L455.4 310.95 L455.63 311.28 L455.86 311.59 L456.08 311.91 L456.31 312.22 L456.54 312.53 L456.77 312.83 L457 313.13 L457.23 313.43 L457.46 313.73 L457.69 314.02 L457.92 314.31 L458.15 314.59 L458.3 314.78 L458.38 314.87 L458.61 315.16 L458.84 315.44 L459.07 315.72 L459.3 316 L459.52 316.27 L459.75 316.55 L459.98 316.82 L460.21 317.1 L460.44 317.37 L460.67 317.63 L460.9 317.9 L461.13 318.16 L461.36 318.42 L461.59 318.67 L461.82 318.92 L462.05 319.17 L462.28 319.41 L462.51 319.65 L462.73 319.88 L462.96 320.11 L463.19 320.33 L463.42 320.54 L463.65 320.75 L463.88 320.96 L464.11 321.16 L464.34 321.35 L464.57 321.53 L464.8 321.71 L465.03 321.88 L465.26 322.05 L465.49 322.22 L465.72 322.39 L465.95 322.55 L466.17 322.72 L466.4 322.88 L466.63 323.03 L466.86 323.19 L467.09 323.34 L467.32 323.49 L467.55 323.64 L467.78 323.79 L468.01 323.93 L468.24 324.07 L468.47 324.21 L468.7 324.34 L468.93 324.47 L469.16 324.6 L469.39 324.73 L469.61 324.85 L469.84 324.97 L470.07 325.08 L470.3 325.2 L470.53 325.31 L470.76 325.41 L470.99 325.51 L471.22 325.61 L471.45 325.71 L471.68 325.8 L471.91 325.89 L472.06 325.94 L472.14 325.97 L472.37 326.05 L472.6 326.14 L472.83 326.21 L473.05 326.29 L473.28 326.37 L473.51 326.44 L473.74 326.51 L473.97 326.58 L474.2 326.65 L474.43 326.72 L474.66 326.79 L474.89 326.85 L475.12 326.92 L475.35 326.98 L475.58 327.04 L475.81 327.1 L476.04 327.16 L476.26 327.21 L476.49 327.27 L476.72 327.32 L476.95 327.38 L477.18 327.43 L477.41 327.48 L477.64 327.53 L477.87 327.58 L478.1 327.63 L478.33 327.68 L478.56 327.72 L478.79 327.77 L479.02 327.81 L479.25 327.86 L479.32 327.87 L479.48 327.9 L479.7 327.94 L479.93 327.98 L480.16 328.03 L480.39 328.07 L480.62 328.11 L480.85 328.16 L481.08 328.2 L481.31 328.24 L481.54 328.28 L481.77 328.32 L482 328.36 L482.23 328.4 L482.46 328.44 L482.69 328.48 L482.92 328.52 L483.14 328.56 L483.37 328.59 L483.6 328.63 L483.83 328.66 L484.06 328.7 L484.29 328.73 L484.52 328.76 L484.75 328.79 L484.98 328.82 L485.21 328.85 L485.44 328.87 L485.67 328.9 L485.9 328.92 L486.13 328.94 L486.35 328.96 L486.58 328.98 L486.81 328.99 L487.04 329.01 L487.27 329.02 L487.35 329.03 L487.5 329.03 L487.73 329.04 L487.96 329.05 L488.19 329.06 L488.42 329.07 L488.65 329.08 L488.88 329.1 L489.11 329.1 L489.34 329.11 L489.57 329.12 L489.79 329.13 L490.02 329.14 L490.25 329.15 L490.48 329.16 L490.71 329.17 L490.94 329.17 L491.17 329.18 L491.4 329.19 L491.63 329.2 L491.86 329.2 L492.09 329.21 L492.32 329.22 L492.55 329.22 L492.78 329.23 L493.01 329.23 L493.23 329.24 L493.46 329.24 L493.69 329.24 L493.92 329.25 L494.15 329.25 L494.38 329.25 L494.61 329.25 L494.84 329.25 L495.07 329.26 L495.3 329.26 L495.37 329.26" stroke="#00ee00" stroke-width="1.2" fill="none" stroke-linejoin="round"/>
<path d="M352.41 349.95h3.1v3.1h-3.1zM363.69 333.25h3.1v3.1h-3.1zM365.41 309.7h3.1v3.1h-3.1zM368.27 309.04h3.1v3.1h-3.1zM371.14 308.22h3.1v3.1h-3.1zM374.01 307.27h3.1v3.1h-3.1zM376.87 306.16h3.1v3.1h-3.1zM379.74 304.87h3.1v3.1h-3.1zM382.6 303.32h3.1v3.1h-3.1zM385.47 301.36h3.1v3.1h-3.1zM388.34 299.11h3.1v3.1h-3.1zM391.2 296.68h3.1v3.1h-3.1zM394.07 294.21h3.1v3.1h-3.1zM396.94 291.54h3.1v3.1h-3.1zM399.8 288.4h3.1v3.1h-3.1zM402.67 284.34h3.1v3.1h-3.1zM405.54 278.6h3.1v3.1h-3.1zM408.4 272.72h3.1v3.1h-3.1zM411.27 266.03h3.1v3.1h-3.1zM414.14 258.09h3.1v3.1h-3.1zM417 251.04h3.1v3.1h-3.1zM419.87 246.99h3.1v3.1h-3.1zM422.74 245.82h3.1v3.1h-3.1zM425.6 245.97h3.1v3.1h-3.1zM428.47 248.25h3.1v3.1h-3.1zM432.29 253.12h3.1v3.1h-3.1zM438.41 268.09h3.1v3.1h-3.1zM444.52 289.68h3.1v3.1h-3.1zM450.64 304.38h3.1v3.1h-3.1zM456.75 313.23h3.1v3.1h-3.1zM462.87 319.86h3.1v3.1h-3.1zM468.98 323.76h3.1v3.1h-3.1zM475.1 325.76h3.1v3.1h-3.1zM481.21 326.94h3.1v3.1h-3.1zM487.33 327.55h3.1v3.1h-3.1zM493.44 327.71h3.1v3.1h-3.1z" fill="#00ee00" stroke="none"/>
<path d="M329.5 356.98 L331.22 358.82 L335.88 351.2 L356.9 349.43 L359.58 330.18 L361.68 311.62 L361.83 311.61 L362.06 311.59 L362.29 311.56 L362.52 311.54 L362.75 311.51 L362.98 311.48 L363.21 311.45 L363.44 311.42 L363.67 311.39 L363.9 311.35 L364.13 311.32 L364.36 311.28 L364.59 311.24 L364.82 311.2 L365.04 311.16 L365.27 311.12 L365.5 311.08 L365.73 311.04 L365.96 310.99 L366.19 310.94 L366.42 310.9 L366.65 310.85 L366.88 310.8 L367.11 310.75 L367.34 310.7 L367.57 310.65 L367.8 310.6 L368.03 310.55 L368.26 310.49 L368.48 310.44 L368.71 310.38 L368.94 310.33 L369.17 310.27 L369.4 310.21 L369.63 310.16 L369.86 310.1 L370.09 310.04 L370.32 309.98 L370.55 309.92 L370.78 309.86 L371.01 309.8 L371.24 309.74 L371.39 309.7 L371.47 309.68 L371.69 309.61 L371.92 309.55 L372.15 309.48 L372.38 309.41 L372.61 309.34 L372.84 309.27 L373.07 309.2 L373.3 309.12 L373.53 309.04 L373.76 308.97 L373.99 308.89 L374.22 308.8 L374.45 308.72 L374.68 308.63 L374.91 308.55 L375.13 308.46 L375.36 308.37 L375.59 308.28 L375.82 308.19 L376.05 308.09 L376.28 308 L376.51 307.9 L376.74 307.8 L376.97 307.7 L377.2 307.6 L377.43 307.5 L377.66 307.39 L377.89 307.29 L378.12 307.18 L378.35 307.08 L378.57 306.97 L378.8 306.86 L379.03 306.75 L379.26 306.64 L379.49 306.52 L379.72 306.41 L379.95 306.3 L380.18 306.18 L380.41 306.06 L380.64 305.95 L380.87 305.83 L381.1 305.71 L381.33 305.59 L381.56 305.47 L381.78 305.34 L382.01 305.22 L382.24 305.1 L382.28 305.08 L382.47 304.97 L382.7 304.85 L382.93 304.72 L383.16 304.58 L383.39 304.45 L383.62 304.31 L383.85 304.17 L384.08 304.03 L384.31 303.88 L384.54 303.74 L384.77 303.59 L385 303.43 L385.22 303.28 L385.45 303.13 L385.68 302.97 L385.91 302.81 L386.14 302.65 L386.37 302.48 L386.6 302.32 L386.83 302.15 L387.06 301.98 L387.29 301.81 L387.52 301.63 L387.75 301.46 L387.98 301.28 L388.21 301.11 L388.44 300.93 L388.66 300.75 L388.89 300.56 L389.12 300.38 L389.35 300.19 L389.58 300.01 L389.81 299.82 L390.04 299.63 L390.27 299.44 L390.5 299.25 L390.73 299.06 L390.96 298.86 L391.19 298.67 L391.42 298.48 L391.65 298.28 L391.88 298.08 L392.1 297.88 L392.33 297.68 L392.56 297.49 L392.79 297.28 L393.02 297.08 L393.21 296.92 L393.25 296.88 L393.48 296.68 L393.71 296.48 L393.94 296.28 L394.17 296.07 L394.4 295.87 L394.63 295.67 L394.86 295.46 L395.09 295.25 L395.31 295.05 L395.54 294.84 L395.77 294.63 L396 294.42 L396.23 294.2 L396.46 293.99 L396.69 293.77 L396.92 293.55 L397.15 293.33 L397.38 293.11 L397.61 292.88 L397.84 292.65 L398.07 292.42 L398.3 292.19 L398.53 291.95 L398.75 291.71 L398.98 291.47 L399.21 291.22 L399.44 290.97 L399.67 290.71 L399.9 290.45 L400.13 290.19 L400.36 289.92 L400.59 289.65 L400.82 289.38 L401.05 289.1 L401.28 288.81 L401.51 288.53 L401.74 288.23 L401.97 287.93 L402.19 287.63 L402.42 287.32 L402.65 287 L402.88 286.68 L403 286.52 L403.11 286.36 L403.34 286.01 L403.57 285.65 L403.8 285.27 L404.03 284.87 L404.26 284.46 L404.49 284.03 L404.72 283.6 L404.95 283.15 L405.18 282.69 L405.4 282.23 L405.63 281.76 L405.86 281.28 L406.09 280.79 L406.32 280.31 L406.55 279.82 L406.78 279.32 L407.01 278.83 L407.24 278.34 L407.47 277.85 L407.7 277.37 L407.85 277.05 L407.93 276.89 L408.16 276.41 L408.39 275.92 L408.62 275.43 L408.84 274.93 L409.07 274.43 L409.3 273.93 L409.53 273.42 L409.76 272.91 L409.99 272.39 L410.22 271.87 L410.45 271.34 L410.68 270.81 L410.91 270.27 L411.14 269.74 L411.37 269.19 L411.6 268.62 L411.83 268.05 L412.06 267.47 L412.28 266.88 L412.51 266.29 L412.74 265.7 L412.97 265.11 L413.2 264.53 L413.43 263.95 L413.66 263.38 L413.89 262.82 L413.93 262.73 L414.12 262.27 L414.35 261.72 L414.58 261.17 L414.81 260.62 L415.04 260.07 L415.27 259.53 L415.5 258.99 L415.72 258.46 L415.95 257.93 L416.18 257.41 L416.41 256.9 L416.64 256.39 L416.87 255.9 L417.1 255.42 L417.21 255.18 L417.33 254.95 L417.56 254.46 L417.79 253.97 L418.02 253.48 L418.25 252.99 L418.48 252.49 L418.71 252 L418.93 251.52 L419.16 251.05 L419.39 250.59 L419.62 250.15 L419.85 249.73 L420.08 249.33 L420.31 248.96 L420.54 248.61 L420.77 248.3 L421 248.03 L421.23 247.79 L421.46 247.57 L421.69 247.36 L421.92 247.14 L422.15 246.93 L422.37 246.73 L422.6 246.54 L422.83 246.35 L423.06 246.17 L423.29 246.01 L423.52 245.86 L423.75 245.72 L423.98 245.6 L424.21 245.51 L424.44 245.43 L424.67 245.37 L424.9 245.34 L425.09 245.33 L425.13 245.33 L425.36 245.35 L425.59 245.39 L425.81 245.46 L426.04 245.55 L426.27 245.66 L426.5 245.79 L426.73 245.94 L426.96 246.1 L427.19 246.27 L427.42 246.45 L427.65 246.63 L427.88 246.83 L428.11 247.02 L428.34 247.24 L428.57 247.5 L428.8 247.81 L429.02 248.15 L429.25 248.53 L429.48 248.93 L429.71 249.36 L429.94 249.81 L430.17 250.28 L430.4 250.76 L430.63 251.25 L430.86 251.75 L431.09 252.25 L431.17 252.41 L431.32 252.75 L431.55 253.28 L431.78 253.85 L432.01 254.44 L432.24 255.05 L432.46 255.69 L432.69 256.34 L432.92 257.01 L433.15 257.69 L433.38 258.37 L433.61 259.06 L433.84 259.74 L434.07 260.43 L434.22 260.88 L434.3 261.11 L434.53 261.79 L434.76 262.48 L434.99 263.17 L435.22 263.88 L435.45 264.59 L435.68 265.31 L435.9 266.03 L436.13 266.76 L436.36 267.5 L436.59 268.24 L436.82 268.99 L437.05 269.74 L437.28 270.5 L437.51 271.27 L437.74 272.05 L437.97 272.83 L438.2 273.63 L438.43 274.43 L438.66 275.23 L438.89 276.04 L439.11 276.86 L439.34 277.68 L439.57 278.51 L439.8 279.34 L440.03 280.17 L440.26 281.01 L440.34 281.29 L440.49 281.85 L440.72 282.73 L440.95 283.63 L441.18 284.55 L441.41 285.49 L441.64 286.42 L441.87 287.35 L442.1 288.27 L442.33 289.17 L442.55 290.04 L442.78 290.87 L443.01 291.65 L443.24 292.38 L443.4 292.84 L443.47 293.05 L443.7 293.7 L443.93 294.33 L444.16 294.94 L444.39 295.54 L444.62 296.12 L444.85 296.69 L445.08 297.24 L445.31 297.79 L445.54 298.31 L445.77 298.83 L445.99 299.34 L446.22 299.83 L446.45 300.31 L446.68 300.79 L446.91 301.25 L447.14 301.7 L447.37 302.15 L447.6 302.59 L447.83 303.02 L448.06 303.44 L448.29 303.86 L448.36 304 L448.52 304.27 L448.75 304.68 L448.98 305.08 L449.21 305.47 L449.43 305.86 L449.66 306.24 L449.89 306.61 L450.12 306.98 L450.35 307.35 L450.58 307.71 L450.81 308.06 L451.04 308.41 L451.27 308.75 L451.5 309.09 L451.73 309.42 L451.96 309.75 L452.19 310.08 L452.42 310.4 L452.64 310.72 L452.87 311.03 L453.1 311.34 L453.33 311.65 L453.56 311.96 L453.79 312.26 L454.02 312.55 L454.25 312.85 L454.48 313.14 L454.71 313.43 L454.86 313.62 L454.94 313.72 L455.17 314.01 L455.4 314.3 L455.63 314.58 L455.86 314.87 L456.08 315.15 L456.31 315.43 L456.54 315.71 L456.77 315.99 L457 316.27 L457.23 316.54 L457.46 316.81 L457.69 317.08 L457.92 317.35 L458.15 317.61 L458.38 317.87 L458.61 318.12 L458.84 318.37 L459.07 318.62 L459.3 318.86 L459.52 319.1 L459.75 319.33 L459.98 319.56 L460.21 319.78 L460.44 319.99 L460.67 320.2 L460.9 320.4 L461.13 320.6 L461.36 320.79 L461.59 320.98 L461.74 321.09 L461.82 321.15 L462.05 321.33 L462.28 321.5 L462.51 321.67 L462.73 321.83 L462.96 322 L463.19 322.16 L463.42 322.32 L463.65 322.48 L463.88 322.64 L464.11 322.79 L464.34 322.94 L464.57 323.09 L464.8 323.23 L465.03 323.38 L465.26 323.52 L465.49 323.66 L465.72 323.79 L465.95 323.92 L466.17 324.05 L466.4 324.18 L466.63 324.31 L466.86 324.43 L467.09 324.55 L467.32 324.66 L467.55 324.77 L467.78 324.88 L468.01 324.99 L468.24 325.09 L468.47 325.19 L468.7 325.29 L468.93 325.38 L469.16 325.47 L469.39 325.56 L469.61 325.64 L469.84 325.73 L470.07 325.81 L470.3 325.89 L470.53 325.96 L470.76 326.04 L470.99 326.12 L471.22 326.19 L471.45 326.26 L471.68 326.33 L471.91 326.4 L472.14 326.47 L472.37 326.53 L472.6 326.6 L472.83 326.66 L473.05 326.72 L473.28 326.78 L473.51 326.84 L473.74 326.9 L473.97 326.96 L474.2 327.02 L474.43 327.07 L474.66 327.13 L474.89 327.18 L475.12 327.23 L475.35 327.29 L475.58 327.34 L475.81 327.39 L476.04 327.43 L476.26 327.48 L476.49 327.53 L476.72 327.58 L476.95 327.62 L477.03 327.64 L477.18 327.67 L477.41 327.72 L477.64 327.76 L477.87 327.81 L478.1 327.85 L478.33 327.9 L478.56 327.94 L478.79 327.99 L479.02 328.03 L479.25 328.08 L479.48 328.12 L479.7 328.17 L479.93 328.21 L480.16 328.25 L480.39 328.29 L480.62 328.33 L480.85 328.37 L481.08 328.41 L481.31 328.45 L481.54 328.49 L481.77 328.53 L482 328.56 L482.23 328.6 L482.46 328.63 L482.69 328.67 L482.92 328.7 L483.14 328.73 L483.37 328.76 L483.6 328.78 L483.83 328.81 L484.06 328.83 L484.29 328.86 L484.52 328.88 L484.75 328.9 L484.98 328.92 L485.21 328.93 L485.44 328.95 L485.67 328.96 L485.9 328.97 L486.13 328.99 L486.35 329 L486.58 329.01 L486.81 329.03 L487.04 329.04 L487.27 329.05 L487.5 329.06 L487.73 329.08 L487.96 329.09 L488.19 329.1 L488.42 329.11 L488.65 329.12 L488.88 329.13 L489.11 329.14 L489.34 329.15 L489.57 329.16 L489.79 329.17 L490.02 329.18 L490.25 329.19 L490.48 329.2 L490.71 329.2 L490.94 329.21 L491.17 329.22 L491.4 329.22 L491.63 329.23 L491.86 329.23 L492.09 329.24 L492.32 329.24 L492.55 329.25 L492.78 329.25 L493.01 329.25 L493.23 329.25 L493.46 329.26 L493.69 329.26 L493.85 329.26" stroke="#ff0000" stroke-width="1.2" fill="none" stroke-linejoin="round"/>
<path d="M352.36 349.68a1.6 1.6 0 1 0 3.2 0a1.6 1.6 0 1 0 -3.2 0zM357.98 330.18a1.6 1.6 0 1 0 3.2 0a1.6 1.6 0 1 0 -3.2 0zM360.08 311.62a1.6 1.6 0 1 0 3.2 0a1.6 1.6 0 1 0 -3.2 0zM362.95 311.25a1.6 1.6 0 1 0 3.2 0a1.6 1.6 0 1 0 -3.2 0zM365.81 310.69a1.6 1.6 0 1 0 3.2 0a1.6 1.6 0 1 0 -3.2 0zM368.68 309.99a1.6 1.6 0 1 0 3.2 0a1.6 1.6 0 1 0 -3.2 0zM371.55 309.17a1.6 1.6 0 1 0 3.2 0a1.6 1.6 0 1 0 -3.2 0zM374.41 308.11a1.6 1.6 0 1 0 3.2 0a1.6 1.6 0 1 0 -3.2 0zM377.28 306.82a1.6 1.6 0 1 0 3.2 0a1.6 1.6 0 1 0 -3.2 0zM380.15 305.37a1.6 1.6 0 1 0 3.2 0a1.6 1.6 0 1 0 -3.2 0zM383.01 303.69a1.6 1.6 0 1 0 3.2 0a1.6 1.6 0 1 0 -3.2 0zM385.88 301.66a1.6 1.6 0 1 0 3.2 0a1.6 1.6 0 1 0 -3.2 0zM388.75 299.38a1.6 1.6 0 1 0 3.2 0a1.6 1.6 0 1 0 -3.2 0zM391.61 296.92a1.6 1.6 0 1 0 3.2 0a1.6 1.6 0 1 0 -3.2 0zM394.48 294.35a1.6 1.6 0 1 0 3.2 0a1.6 1.6 0 1 0 -3.2 0zM397.35 291.51a1.6 1.6 0 1 0 3.2 0a1.6 1.6 0 1 0 -3.2 0zM400.21 288.13a1.6 1.6 0 1 0 3.2 0a1.6 1.6 0 1 0 -3.2 0zM403.08 283.67a1.6 1.6 0 1 0 3.2 0a1.6 1.6 0 1 0 -3.2 0zM405.95 277.69a1.6 1.6 0 1 0 3.2 0a1.6 1.6 0 1 0 -3.2 0zM408.81 271.43a1.6 1.6 0 1 0 3.2 0a1.6 1.6 0 1 0 -3.2 0zM411.68 264.33a1.6 1.6 0 1 0 3.2 0a1.6 1.6 0 1 0 -3.2 0zM414.54 257.5a1.6 1.6 0 1 0 3.2 0a1.6 1.6 0 1 0 -3.2 0zM417.41 251.36a1.6 1.6 0 1 0 3.2 0a1.6 1.6 0 1 0 -3.2 0zM420.28 247.18a1.6 1.6 0 1 0 3.2 0a1.6 1.6 0 1 0 -3.2 0zM423.14 245.35a1.6 1.6 0 1 0 3.2 0a1.6 1.6 0 1 0 -3.2 0zM426.01 246.6a1.6 1.6 0 1 0 3.2 0a1.6 1.6 0 1 0 -3.2 0zM428.88 250.93a1.6 1.6 0 1 0 3.2 0a1.6 1.6 0 1 0 -3.2 0zM431.29 256.9a1.6 1.6 0 1 0 3.2 0a1.6 1.6 0 1 0 -3.2 0zM437.4 276.45a1.6 1.6 0 1 0 3.2 0a1.6 1.6 0 1 0 -3.2 0zM443.52 297.34a1.6 1.6 0 1 0 3.2 0a1.6 1.6 0 1 0 -3.2 0zM449.63 308.69a1.6 1.6 0 1 0 3.2 0a1.6 1.6 0 1 0 -3.2 0zM455.75 316.68a1.6 1.6 0 1 0 3.2 0a1.6 1.6 0 1 0 -3.2 0zM461.86 322.35a1.6 1.6 0 1 0 3.2 0a1.6 1.6 0 1 0 -3.2 0zM467.98 325.63a1.6 1.6 0 1 0 3.2 0a1.6 1.6 0 1 0 -3.2 0zM474.09 327.36a1.6 1.6 0 1 0 3.2 0a1.6 1.6 0 1 0 -3.2 0zM480.21 328.53a1.6 1.6 0 1 0 3.2 0a1.6 1.6 0 1 0 -3.2 0zM486.32 329.09a1.6 1.6 0 1 0 3.2 0a1.6 1.6 0 1 0 -3.2 0z" fill="#ff0000" stroke="none"/>
<path d="M329.5 356.98 L331.22 358.82 L335.88 351.2 L356.9 349.12 L359.58 331.57 L361.49 308.39 L361.6 308.38 L361.83 308.37 L362.06 308.36 L362.29 308.35 L362.52 308.33 L362.75 308.31 L362.98 308.29 L363.21 308.27 L363.44 308.25 L363.67 308.22 L363.9 308.2 L364.13 308.17 L364.36 308.14 L364.59 308.11 L364.82 308.07 L365.04 308.04 L365.27 308 L365.5 307.97 L365.73 307.93 L365.96 307.89 L366.19 307.85 L366.42 307.8 L366.65 307.76 L366.88 307.72 L367.11 307.67 L367.34 307.63 L367.57 307.58 L367.8 307.53 L368.03 307.48 L368.26 307.43 L368.48 307.38 L368.71 307.33 L368.94 307.28 L369.17 307.23 L369.4 307.17 L369.63 307.12 L369.86 307.07 L370.09 307.01 L370.32 306.96 L370.55 306.9 L370.78 306.84 L371.01 306.79 L371.24 306.73 L371.39 306.69 L371.47 306.68 L371.69 306.62 L371.92 306.56 L372.15 306.49 L372.38 306.42 L372.61 306.35 L372.84 306.28 L373.07 306.21 L373.3 306.13 L373.53 306.05 L373.76 305.97 L373.99 305.88 L374.22 305.79 L374.45 305.71 L374.68 305.61 L374.91 305.52 L375.13 305.43 L375.36 305.33 L375.59 305.23 L375.82 305.13 L376.05 305.03 L376.28 304.92 L376.51 304.82 L376.74 304.71 L376.97 304.6 L377.2 304.49 L377.43 304.38 L377.66 304.26 L377.89 304.15 L378.12 304.03 L378.35 303.91 L378.57 303.79 L378.8 303.67 L379.03 303.55 L379.26 303.43 L379.49 303.31 L379.72 303.19 L379.95 303.06 L380.18 302.94 L380.41 302.81 L380.64 302.69 L380.87 302.56 L381.1 302.43 L381.33 302.3 L381.56 302.18 L381.78 302.05 L382.01 301.92 L382.24 301.79 L382.28 301.77 L382.47 301.66 L382.7 301.53 L382.93 301.39 L383.16 301.26 L383.39 301.12 L383.62 300.98 L383.85 300.84 L384.08 300.7 L384.31 300.55 L384.54 300.41 L384.77 300.26 L385 300.11 L385.22 299.95 L385.45 299.8 L385.68 299.64 L385.91 299.49 L386.14 299.33 L386.37 299.17 L386.6 299 L386.83 298.84 L387.06 298.67 L387.29 298.51 L387.52 298.34 L387.75 298.16 L387.98 297.99 L388.21 297.82 L388.44 297.64 L388.66 297.46 L388.89 297.28 L389.12 297.1 L389.35 296.92 L389.58 296.73 L389.81 296.55 L390.04 296.36 L390.27 296.17 L390.5 295.98 L390.73 295.79 L390.96 295.59 L391.19 295.4 L391.42 295.2 L391.65 295 L391.88 294.8 L392.1 294.6 L392.33 294.4 L392.56 294.19 L392.79 293.99 L393.02 293.78 L393.21 293.61 L393.25 293.57 L393.48 293.36 L393.71 293.15 L393.94 292.93 L394.17 292.72 L394.4 292.5 L394.63 292.28 L394.86 292.06 L395.09 291.83 L395.31 291.61 L395.54 291.38 L395.77 291.15 L396 290.92 L396.23 290.68 L396.46 290.44 L396.69 290.2 L396.92 289.96 L397.15 289.71 L397.38 289.46 L397.61 289.21 L397.84 288.95 L398.07 288.69 L398.3 288.43 L398.53 288.17 L398.75 287.9 L398.98 287.63 L399.21 287.35 L399.44 287.07 L399.67 286.79 L399.9 286.5 L400.13 286.21 L400.36 285.91 L400.59 285.61 L400.82 285.31 L401.05 285 L401.28 284.69 L401.51 284.38 L401.74 284.06 L401.97 283.73 L402.19 283.4 L402.42 283.07 L402.65 282.73 L402.88 282.38 L403 282.21 L403.11 282.03 L403.34 281.67 L403.57 281.29 L403.8 280.9 L404.03 280.5 L404.26 280.08 L404.49 279.66 L404.72 279.22 L404.95 278.77 L405.18 278.31 L405.4 277.85 L405.63 277.37 L405.86 276.89 L406.09 276.4 L406.32 275.9 L406.55 275.39 L406.78 274.88 L407.01 274.36 L407.24 273.84 L407.47 273.31 L407.7 272.79 L407.85 272.43 L407.93 272.25 L408.16 271.7 L408.39 271.13 L408.62 270.53 L408.84 269.93 L409.07 269.31 L409.3 268.68 L409.53 268.04 L409.76 267.4 L409.99 266.76 L410.22 266.11 L410.45 265.47 L410.68 264.83 L410.91 264.2 L411.14 263.57 L411.37 262.96 L411.6 262.34 L411.83 261.71 L412.06 261.09 L412.28 260.47 L412.51 259.85 L412.74 259.23 L412.97 258.61 L413.2 258 L413.43 257.39 L413.66 256.8 L413.89 256.2 L413.93 256.11 L414.12 255.62 L414.35 255.02 L414.58 254.42 L414.81 253.83 L415.04 253.23 L415.27 252.64 L415.5 252.05 L415.72 251.47 L415.95 250.9 L416.18 250.35 L416.41 249.81 L416.64 249.3 L416.87 248.8 L417.1 248.33 L417.21 248.1 L417.33 247.87 L417.56 247.42 L417.79 246.95 L418.02 246.49 L418.25 246.02 L418.48 245.56 L418.71 245.11 L418.93 244.67 L419.16 244.24 L419.39 243.83 L419.62 243.45 L419.85 243.08 L420.08 242.75 L420.31 242.45 L420.54 242.18 L420.77 241.96 L421 241.77 L421.23 241.63 L421.46 241.52 L421.69 241.4 L421.92 241.3 L422.15 241.19 L422.37 241.1 L422.6 241 L422.83 240.92 L423.06 240.84 L423.29 240.76 L423.52 240.7 L423.75 240.64 L423.98 240.59 L424.21 240.55 L424.44 240.51 L424.67 240.49 L424.9 240.48 L425.05 240.47 L425.13 240.48 L425.36 240.49 L425.59 240.53 L425.81 240.59 L426.04 240.65 L426.27 240.74 L426.5 240.83 L426.73 240.94 L426.96 241.05 L427.19 241.16 L427.34 241.25 L427.42 241.29 L427.65 241.45 L427.88 241.65 L428.11 241.89 L428.34 242.16 L428.57 242.46 L428.8 242.79 L429.02 243.15 L429.25 243.52 L429.48 243.91 L429.71 244.3 L429.94 244.71 L430.17 245.12 L430.29 245.33 L430.4 245.54 L430.63 245.98 L430.86 246.47 L431.09 246.98 L431.32 247.53 L431.55 248.1 L431.78 248.69 L432.01 249.3 L432.24 249.93 L432.46 250.57 L432.69 251.21 L432.92 251.86 L433.11 252.41 L433.15 252.52 L433.38 253.2 L433.61 253.91 L433.84 254.64 L434.07 255.4 L434.3 256.17 L434.53 256.96 L434.76 257.75 L434.99 258.55 L435.22 259.34 L435.45 260.12 L435.68 260.9 L435.9 261.65 L436.13 262.39 L436.36 263.12 L436.59 263.84 L436.82 264.56 L437.05 265.28 L437.28 266 L437.51 266.71 L437.74 267.43 L437.97 268.16 L438.2 268.89 L438.43 269.63 L438.66 270.38 L438.81 270.89 L438.89 271.15 L439.11 271.92 L439.34 272.7 L439.57 273.48 L439.8 274.27 L440.03 275.07 L440.26 275.87 L440.49 276.68 L440.72 277.5 L440.95 278.32 L441.18 279.15 L441.41 279.98 L441.64 280.82 L441.87 281.67 L442.1 282.54 L442.33 283.46 L442.55 284.4 L442.78 285.36 L443.01 286.34 L443.24 287.31 L443.47 288.28 L443.7 289.23 L443.93 290.15 L444.16 291.04 L444.39 291.88 L444.62 292.66 L444.85 293.38 L444.92 293.61 L445.08 294.04 L445.31 294.67 L445.54 295.29 L445.77 295.88 L445.99 296.46 L446.22 297.03 L446.45 297.57 L446.68 298.1 L446.91 298.62 L447.14 299.13 L447.37 299.62 L447.6 300.1 L447.83 300.57 L448.06 301.03 L448.29 301.48 L448.52 301.92 L448.75 302.35 L448.98 302.78 L449.21 303.2 L449.43 303.62 L449.66 304.03 L449.78 304.23 L449.89 304.43 L450.12 304.84 L450.35 305.23 L450.58 305.62 L450.81 306 L451.04 306.38 L451.27 306.75 L451.5 307.12 L451.73 307.48 L451.96 307.84 L452.19 308.19 L452.42 308.53 L452.64 308.87 L452.87 309.21 L453.1 309.54 L453.33 309.87 L453.56 310.2 L453.79 310.52 L454.02 310.84 L454.25 311.15 L454.48 311.46 L454.71 311.77 L454.94 312.07 L455.17 312.37 L455.4 312.67 L455.63 312.97 L455.86 313.26 L456.08 313.56 L456.2 313.7 L456.31 313.85 L456.54 314.14 L456.77 314.43 L457 314.72 L457.23 315.01 L457.46 315.3 L457.69 315.58 L457.92 315.87 L458.15 316.15 L458.38 316.43 L458.61 316.71 L458.84 316.99 L459.07 317.26 L459.3 317.53 L459.52 317.8 L459.75 318.06 L459.98 318.32 L460.21 318.57 L460.44 318.82 L460.67 319.07 L460.9 319.31 L461.13 319.54 L461.36 319.76 L461.59 319.98 L461.82 320.2 L462.05 320.4 L462.28 320.6 L462.51 320.79 L462.73 320.98 L462.89 321.09 L462.96 321.15 L463.19 321.32 L463.42 321.49 L463.65 321.66 L463.88 321.82 L464.11 321.98 L464.34 322.14 L464.57 322.3 L464.8 322.45 L465.03 322.6 L465.26 322.75 L465.49 322.9 L465.72 323.04 L465.95 323.18 L466.17 323.32 L466.4 323.45 L466.63 323.58 L466.86 323.71 L467.09 323.84 L467.32 323.96 L467.55 324.09 L467.78 324.2 L468.01 324.32 L468.24 324.43 L468.47 324.54 L468.7 324.65 L468.93 324.76 L469.16 324.86 L469.39 324.96 L469.61 325.06 L469.84 325.15 L470.07 325.24 L470.3 325.33 L470.53 325.42 L470.76 325.5 L470.99 325.58 L471.22 325.66 L471.45 325.74 L471.68 325.82 L471.91 325.9 L472.14 325.97 L472.37 326.05 L472.6 326.12 L472.83 326.19 L473.05 326.26 L473.28 326.33 L473.51 326.39 L473.74 326.46 L473.97 326.52 L474.2 326.58 L474.43 326.65 L474.66 326.71 L474.89 326.77 L475.12 326.83 L475.35 326.88 L475.58 326.94 L475.81 327 L476.04 327.05 L476.26 327.11 L476.49 327.16 L476.72 327.21 L476.95 327.26 L477.18 327.32 L477.41 327.37 L477.6 327.41 L477.64 327.42 L477.87 327.47 L478.1 327.52 L478.33 327.57 L478.56 327.62 L478.79 327.67 L479.02 327.72 L479.25 327.77 L479.48 327.82 L479.7 327.87 L479.93 327.91 L480.16 327.96 L480.39 328.01 L480.62 328.06 L480.85 328.1 L481.08 328.15 L481.31 328.19 L481.54 328.24 L481.77 328.28 L482 328.32 L482.23 328.36 L482.46 328.4 L482.69 328.44 L482.92 328.48 L483.14 328.52 L483.37 328.55 L483.6 328.58 L483.83 328.61 L484.06 328.64 L484.29 328.67 L484.52 328.7 L484.75 328.72 L484.98 328.75 L485.21 328.77 L485.44 328.79 L485.51 328.79 L485.67 328.81 L485.9 328.82 L486.13 328.84 L486.35 328.86 L486.58 328.87 L486.81 328.89 L487.04 328.91 L487.27 328.92 L487.5 328.94 L487.73 328.95 L487.96 328.97 L488.19 328.98 L488.42 329 L488.65 329.01 L488.88 329.03 L489.11 329.04 L489.34 329.05 L489.57 329.07 L489.79 329.08 L490.02 329.09 L490.25 329.1 L490.48 329.11 L490.71 329.12 L490.94 329.13 L491.17 329.14 L491.4 329.14 L491.63 329.15 L491.86 329.16 L492.09 329.16 L492.32 329.17 L492.55 329.17 L492.78 329.17 L493.01 329.18 L493.23 329.18 L493.46 329.18" stroke="#0000ff" stroke-width="1.2" fill="none" stroke-linejoin="round"/>
<path d="M329.5 354.89L331.4 358.5L327.6 358.5zM353.96 347.32L355.86 350.93L352.06 350.93zM359.58 329.48L361.48 333.09L357.68 333.09zM361.49 306.3L363.39 309.91L359.59 309.91zM364.36 306.05L366.26 309.66L362.46 309.66zM367.22 305.56L369.12 309.17L365.32 309.17zM370.09 304.92L371.99 308.53L368.19 308.53zM372.96 304.15L374.86 307.76L371.06 307.76zM375.82 303.04L377.72 306.65L373.92 306.65zM378.69 301.64L380.59 305.25L376.79 305.25zM381.56 300.09L383.46 303.7L379.66 303.7zM384.42 298.39L386.32 302L382.52 302zM387.29 296.42L389.19 300.03L385.39 300.03zM390.16 294.18L392.06 297.79L388.26 297.79zM393.02 291.69L394.92 295.3L391.12 295.3zM395.89 288.94L397.79 292.55L393.99 292.55zM398.75 285.81L400.65 289.42L396.85 289.42zM401.62 282.13L403.52 285.74L399.72 285.74zM404.49 277.57L406.39 281.18L402.59 281.18zM407.35 271.49L409.25 275.1L405.45 275.1zM410.22 264.02L412.12 267.63L408.32 267.63zM413.09 256.22L414.99 259.83L411.19 259.83zM415.95 248.81L417.85 252.42L414.05 252.42zM418.82 242.8L420.72 246.41L416.92 246.41zM421.69 239.31L423.59 242.92L419.79 242.92zM424.55 238.41L426.45 242.02L422.65 242.02zM427.42 239.2L429.32 242.81L425.52 242.81zM430.29 243.24L432.19 246.85L428.39 246.85zM432.89 249.67L434.79 253.28L430.99 253.28zM439 269.44L440.9 273.05L437.1 273.05zM445.12 292.06L447.02 295.67L443.22 295.67zM451.23 304.6L453.13 308.21L449.33 308.21zM457.35 313.06L459.25 316.67L455.45 316.67zM463.46 319.43L465.36 323.04L461.56 323.04zM469.58 322.95L471.48 326.56L467.68 326.56zM475.69 324.88L477.59 328.49L473.79 328.49zM481.81 326.2L483.71 329.81L479.91 329.81zM487.92 326.88L489.82 330.49L486.02 330.49z" fill="#0000ff" stroke="none"/>
<rect x="329.5" y="219.3" width="191.1" height="154" fill="none" stroke="#333333" stroke-width="1.4"/>
<path d="M367.72 373.3V370.3M405.94 373.3V370.3M444.16 373.3V370.3M482.38 373.3V370.3M329.5 334.8H332.5M329.5 296.3H332.5M329.5 257.8H332.5" stroke="#333333" stroke-width="1" fill="none"/>
<text x="329.5" y="385.1" text-anchor="middle" class="tk">0</text>
<text x="367.72" y="385.1" text-anchor="middle" class="tk">1000</text>
<text x="405.94" y="385.1" text-anchor="middle" class="tk">2000</text>
<text x="444.16" y="385.1" text-anchor="middle" class="tk">3000</text>
<text x="482.38" y="385.1" text-anchor="middle" class="tk">4000</text>
<text x="520.6" y="385.1" text-anchor="middle" class="tk">5000</text>
<text x="326.1" y="376.9" text-anchor="end" class="tk">0</text>
<text x="326.1" y="338.4" text-anchor="end" class="tk">5</text>
<text x="326.1" y="299.9" text-anchor="end" class="tk">10</text>
<text x="326.1" y="261.4" text-anchor="end" class="tk">15</text>
<text x="326.1" y="222.9" text-anchor="end" class="tk">20</text>
<rect x="465.3" y="223.4" width="52.9" height="38" fill="#fff" stroke="#a0a0a0" stroke-width="0.9"/>
<path d="M466.4 230.2H484.7" stroke="#00ee00" stroke-width="1.1"/>
<path d="M473.65 228.3h3.8v3.8h-3.8z" fill="#00ee00"/>
<text x="487" y="233.8" class="lg" textLength="29.4" lengthAdjust="spacingAndGlyphs">20 mD</text>
<path d="M466.4 243.2H484.7" stroke="#ff0000" stroke-width="1.1"/>
<path d="M473.55 243.2a2 2 0 1 0 4 0a2 2 0 1 0 -4 0z" fill="#ff0000"/>
<text x="487" y="246.8" class="lg" textLength="29.4" lengthAdjust="spacingAndGlyphs">30 mD</text>
<path d="M466.4 255.8H484.7" stroke="#0000ff" stroke-width="1.1"/>
<path d="M475.55 253.38L477.75 257.56L473.35 257.56z" fill="#0000ff"/>
<text x="487" y="259.4" class="lg" textLength="29.4" lengthAdjust="spacingAndGlyphs">40 mD</text>
<text x="466" y="273.6" class="wb" textLength="49.9" lengthAdjust="spacingAndGlyphs">Water-based</text>
<text x="404.5" y="402.7" class="al" textLength="41.5" lengthAdjust="spacingAndGlyphs">Time (s)</text>
<text transform="translate(304.1 348.1) rotate(-90)" x="0" y="0" class="al" textLength="115" lengthAdjust="spacingAndGlyphs">Choke pressure (MPa)</text>
<text x="280.2" y="419.6" class="cap" textLength="15.4" lengthAdjust="spacingAndGlyphs">(<tspan font-weight="bold">d</tspan>)</text>
<text x="298.6" y="419.6" class="cap" textLength="247.3" lengthAdjust="spacingAndGlyphs">Choke pressure under different permeabilities</text>
</svg>
</body></html>
